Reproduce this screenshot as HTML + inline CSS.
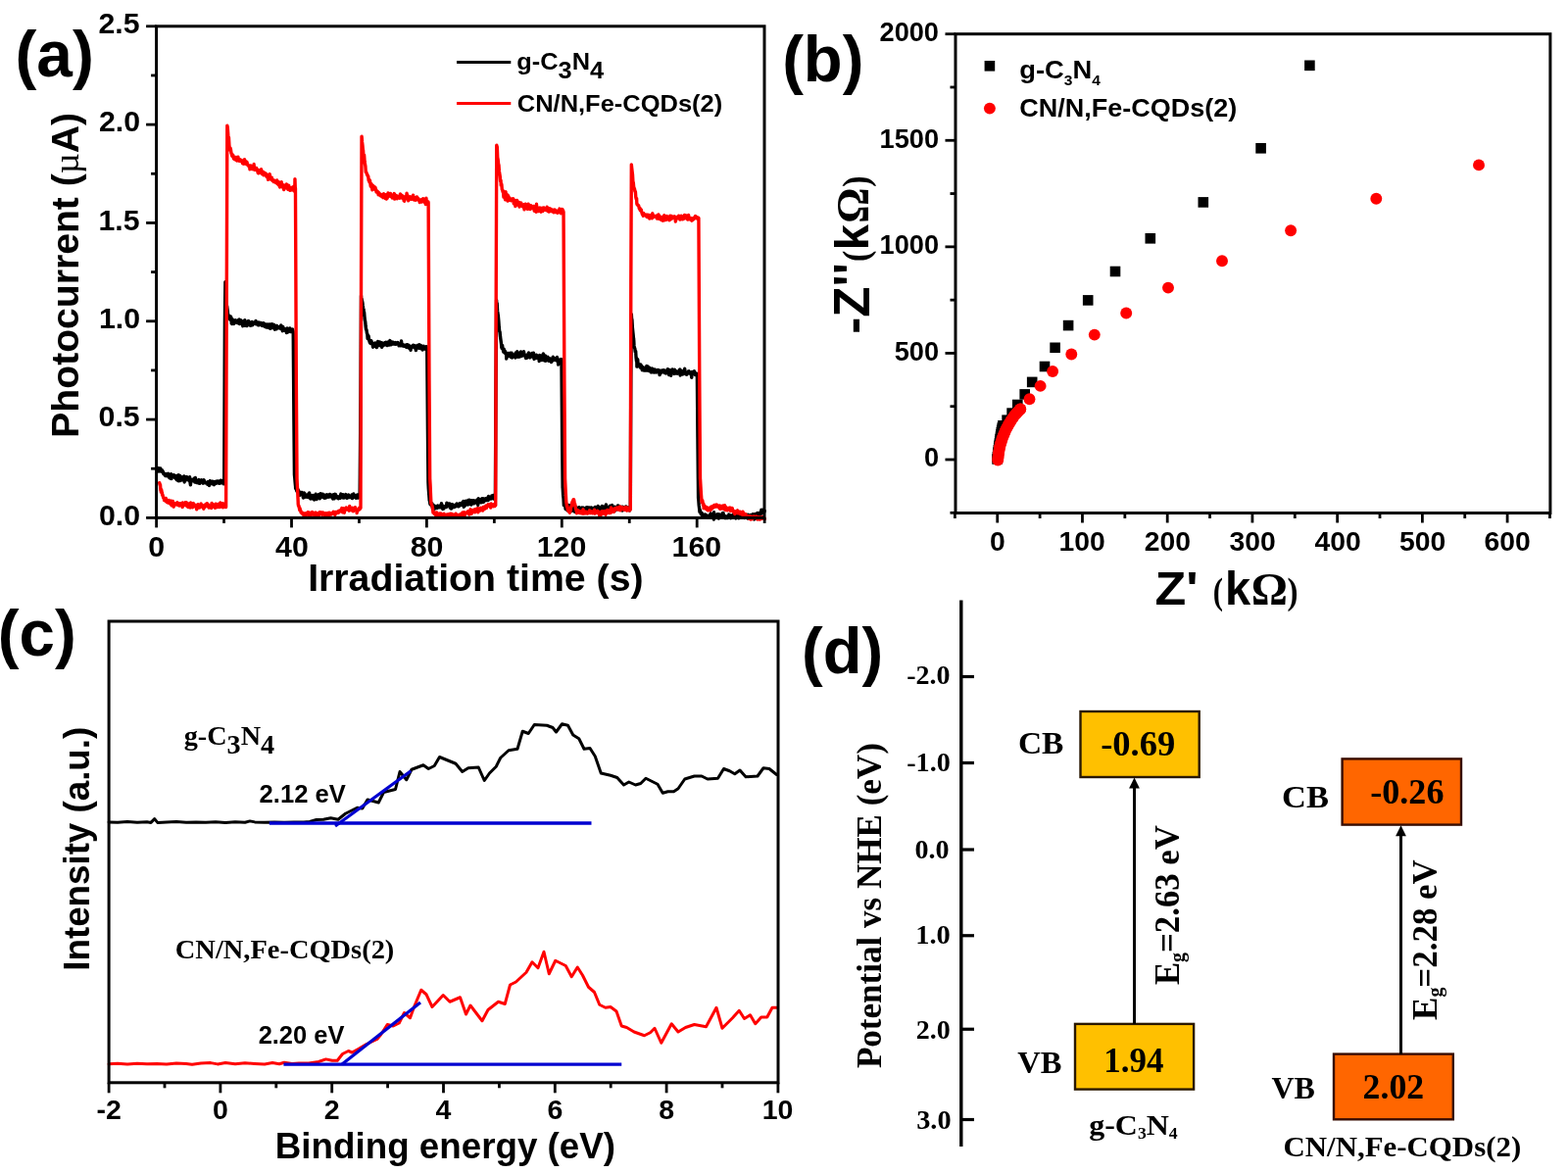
<!DOCTYPE html>
<html><head><meta charset="utf-8"><title>Figure</title>
<style>
html,body{margin:0;padding:0;background:#fff;}
body{width:1600px;height:1197px;overflow:hidden;}
svg{display:block;}
</style></head>
<body>
<svg width="1600" height="1197" viewBox="0 0 1600 1197">
<rect x="0" y="0" width="1600" height="1197" fill="#fff"/>
<polyline points="161.32,479.11 161.74,477.71 162.15,480.99 162.56,478.51 162.98,480.49 163.39,480.72 163.81,477.90 164.22,480.57 164.63,481.08 165.05,480.21 165.46,479.88 165.87,481.72 166.29,481.08 166.70,483.49 167.12,482.86 167.53,483.18 167.94,484.66 168.36,485.13 168.77,485.52 169.18,483.79 169.60,483.92 169.94,484.31 170.01,483.78 170.43,485.88 170.84,484.25 171.25,483.93 171.67,483.34 172.08,485.71 172.49,485.21 172.91,487.61 173.32,485.61 173.73,488.12 174.15,487.16 174.56,483.74 174.98,488.51 175.39,484.43 175.80,485.22 176.22,486.24 176.63,485.29 177.04,485.32 177.46,484.72 177.87,486.64 178.29,487.28 178.70,487.43 179.11,488.09 179.53,486.90 179.94,488.06 180.28,485.57 180.35,489.71 180.77,488.70 181.18,488.58 181.60,490.26 182.01,484.73 182.42,490.87 182.84,487.96 183.25,488.38 183.66,485.40 184.08,490.59 184.49,486.38 184.90,488.99 185.32,488.26 185.73,489.07 186.15,487.31 186.56,489.88 186.97,488.48 187.39,487.95 187.80,485.94 188.21,491.98 188.63,486.54 189.04,487.44 189.46,489.53 189.87,488.50 190.28,489.66 190.70,486.78 191.11,488.87 191.52,489.55 191.94,489.65 192.35,489.69 192.76,489.74 193.18,490.80 193.59,486.76 194.01,492.41 194.42,494.87 194.83,490.06 195.25,490.18 195.66,489.53 196.07,490.42 196.49,490.42 196.90,489.83 197.32,489.01 197.73,491.08 198.14,491.06 198.56,487.89 198.90,489.94 198.97,492.07 199.38,487.47 199.80,489.68 200.21,491.65 200.63,492.51 201.04,490.49 201.45,492.12 201.87,492.48 202.28,492.86 202.69,491.79 203.11,489.57 203.52,491.78 203.93,493.25 204.35,490.32 204.76,491.21 205.18,490.16 205.59,489.70 206.00,491.67 206.42,491.68 206.83,491.58 207.24,493.16 207.66,490.67 208.07,489.72 208.49,491.45 208.90,492.07 209.31,492.15 209.73,492.92 210.14,493.00 210.55,492.48 210.97,493.14 211.38,492.61 211.80,494.26 212.21,491.60 212.62,492.06 213.04,493.79 213.45,495.45 213.86,492.27 214.28,490.76 214.69,493.38 215.10,493.07 215.52,493.24 215.93,491.56 216.35,493.81 216.76,491.18 217.17,493.04 217.59,491.36 217.86,492.64 218.00,493.00 218.41,494.70 218.83,493.55 219.24,492.90 219.66,491.57 220.07,492.10 220.48,493.38 220.90,491.78 221.31,490.93 221.72,492.48 222.14,492.84 222.55,492.73 222.97,491.00 223.38,491.34 223.79,493.35 224.21,491.48 224.62,492.63 225.03,492.97 225.45,490.13 225.86,490.67 226.27,492.80 226.69,491.62 227.10,490.99 227.17,492.58 227.52,491.76 227.93,490.55 228.34,493.89 228.72,490.82 228.76,483.11 229.17,384.99 229.41,327.76 229.58,314.38 229.93,287.63 230.00,287.86 230.41,296.24 230.83,307.04 230.96,307.22 231.24,311.24 231.65,312.46 232.07,315.77 232.48,319.73 232.69,322.89 232.89,323.01 233.31,321.58 233.72,324.97 234.13,323.63 234.55,324.36 234.96,326.30 235.38,323.03 235.44,326.65 235.79,323.61 236.20,329.98 236.62,330.42 237.03,325.67 237.44,326.29 237.86,327.82 238.27,327.54 238.69,330.42 239.10,328.61 239.51,329.32 239.93,328.20 240.34,326.63 240.75,327.99 241.17,327.61 241.58,329.32 242.00,329.03 242.41,328.31 242.82,329.00 243.24,326.78 243.65,330.10 244.06,326.04 244.48,330.46 244.89,327.49 245.30,330.35 245.72,326.81 246.13,329.19 246.55,328.90 246.82,328.45 246.96,330.53 247.37,331.17 247.79,332.67 248.20,327.81 248.61,330.72 249.03,330.59 249.44,329.77 249.86,326.76 250.27,332.37 250.68,329.42 251.10,330.42 251.51,329.05 251.92,332.58 252.34,330.50 252.75,328.66 253.17,327.60 253.58,327.57 253.99,331.28 254.41,329.94 254.82,330.21 255.23,332.14 255.65,332.26 256.06,328.98 256.47,329.78 256.89,330.39 257.30,328.37 257.72,331.73 258.13,329.45 258.54,330.26 258.96,330.39 259.37,329.58 259.78,330.08 260.20,329.97 260.61,330.00 261.03,327.50 261.44,330.91 261.85,328.95 262.27,329.58 262.68,331.05 263.09,329.35 263.51,331.86 263.92,328.85 264.34,331.84 264.75,331.38 265.16,330.18 265.58,329.44 265.99,329.35 266.40,329.40 266.82,331.08 267.23,332.29 267.64,330.11 268.06,330.56 268.47,332.54 268.89,329.72 269.30,330.97 269.71,332.79 270.13,330.77 270.54,333.51 270.95,332.92 271.37,331.08 271.78,334.11 272.20,331.79 272.61,333.97 273.02,330.91 273.44,333.19 273.85,331.91 274.26,334.53 274.68,332.86 275.09,331.00 275.50,331.82 275.92,335.36 276.33,331.29 276.75,331.42 277.16,333.41 277.57,330.80 277.99,334.60 278.40,333.22 278.81,331.50 279.23,331.29 279.64,331.42 280.06,335.07 280.47,336.19 280.88,333.00 281.30,335.83 281.71,333.96 282.12,335.77 282.54,332.33 282.95,332.80 283.37,333.25 283.78,334.15 284.19,334.19 284.61,334.79 285.02,333.85 285.43,334.13 285.85,333.90 286.26,335.32 286.67,331.90 286.81,334.36 287.09,332.75 287.50,332.95 287.92,336.37 288.33,337.68 288.74,333.35 289.16,335.93 289.57,335.32 289.98,335.93 290.40,335.44 290.81,337.53 291.23,336.00 291.64,336.64 292.05,336.06 292.47,339.65 292.88,335.00 293.29,335.84 293.71,339.03 294.12,337.64 294.54,336.59 294.95,335.79 295.36,336.83 295.78,334.85 296.19,337.00 296.60,338.63 297.02,338.25 297.43,336.21 297.84,338.35 298.26,336.26 298.53,336.06 298.67,337.15 299.09,337.83 299.22,340.06 299.50,375.11 299.91,428.08 300.33,473.02 300.43,484.26 300.74,487.37 301.15,492.31 301.57,496.47 301.64,498.50 301.98,497.91 302.40,499.64 302.81,501.15 303.22,499.94 303.64,500.51 303.71,501.79 304.05,499.74 304.46,500.75 304.88,501.02 305.29,503.74 305.71,505.40 306.12,502.94 306.53,503.41 306.95,502.95 307.36,503.51 307.77,502.45 308.19,504.75 308.60,503.53 309.01,505.86 309.43,507.97 309.84,505.47 310.26,502.87 310.67,507.45 311.08,503.80 311.50,506.30 311.91,506.04 312.32,505.54 312.74,505.43 313.15,507.22 313.57,505.80 313.98,505.48 314.39,505.05 314.74,507.39 314.81,504.15 315.22,503.66 315.63,502.95 316.05,508.23 316.46,506.11 316.87,508.97 317.29,505.83 317.70,505.58 318.12,507.98 318.53,508.60 318.94,506.12 319.36,505.50 319.77,507.50 320.18,506.76 320.60,509.95 321.01,507.40 321.43,506.20 321.84,506.20 322.25,504.19 322.67,508.02 323.08,509.59 323.49,505.80 323.91,507.27 324.32,506.04 324.74,505.44 325.15,505.61 325.56,504.43 325.98,504.56 326.39,508.80 326.80,506.56 327.22,503.67 327.63,507.05 328.04,505.13 328.46,506.57 328.87,507.08 329.29,504.28 329.70,505.04 330.11,506.85 330.53,505.24 330.94,508.36 331.35,507.54 331.77,505.26 332.18,506.48 332.60,508.03 333.01,505.91 333.42,506.08 333.84,504.75 334.25,505.21 334.66,506.95 335.08,507.25 335.49,506.77 335.91,506.90 336.32,504.53 336.73,504.35 337.15,504.68 337.56,506.06 337.97,506.94 338.39,505.34 338.80,507.10 339.21,506.28 339.63,508.96 340.04,507.22 340.46,504.61 340.87,508.08 341.28,508.73 341.70,506.87 342.11,504.31 342.52,504.62 342.94,507.16 343.35,507.33 343.77,506.82 344.18,507.98 344.59,506.63 345.01,507.10 345.42,508.76 345.83,507.51 346.25,507.06 346.66,507.91 347.08,508.28 347.49,505.44 347.90,504.05 348.32,507.12 348.73,507.32 349.14,506.02 349.21,507.05 349.56,507.81 349.97,504.74 350.38,508.14 350.80,507.69 351.21,507.57 351.63,507.87 352.04,506.94 352.45,505.78 352.87,504.54 353.28,505.62 353.69,506.48 354.11,508.27 354.52,506.58 354.94,507.80 355.35,506.59 355.76,505.06 356.18,506.13 356.59,506.70 357.00,507.44 357.42,506.39 357.83,506.19 358.24,507.63 358.66,507.02 359.07,505.05 359.49,508.60 359.90,506.87 360.31,507.87 360.73,504.04 361.14,505.35 361.55,505.46 361.97,505.60 362.38,505.74 362.80,505.71 363.21,508.33 363.62,505.72 364.04,505.23 364.45,508.05 364.86,504.87 365.28,505.07 365.69,508.13 366.11,506.64 366.52,506.39 366.93,506.68 367.14,505.38 367.35,482.43 367.76,435.43 368.00,408.02 368.17,372.57 368.52,301.68 368.59,304.00 369.00,304.85 369.41,306.61 369.83,308.30 370.24,311.75 370.66,314.62 371.07,315.65 371.48,322.12 371.62,318.53 371.90,322.28 372.31,326.51 372.72,328.09 373.14,333.02 373.55,336.16 373.97,336.39 374.38,339.89 374.79,340.43 375.07,344.74 375.21,345.63 375.62,345.94 376.03,342.72 376.45,346.08 376.86,347.85 377.28,349.23 377.69,350.21 377.83,349.07 378.10,348.37 378.52,347.57 378.93,347.86 379.34,349.46 379.76,351.15 380.17,351.73 380.58,354.21 381.00,352.54 381.41,350.66 381.62,351.95 381.83,350.87 382.24,353.43 382.65,350.02 383.07,350.91 383.48,351.26 383.89,350.70 384.31,354.64 384.72,352.09 385.14,352.58 385.55,348.48 385.96,351.45 386.38,351.91 386.79,349.85 387.20,352.69 387.62,348.94 388.03,352.11 388.45,351.12 388.86,352.38 389.27,349.77 389.69,354.23 390.10,349.89 390.51,352.14 390.93,350.81 391.34,352.59 391.75,350.49 392.17,350.53 392.58,349.90 393.00,350.29 393.41,349.80 393.82,349.22 394.24,351.27 394.65,352.44 395.06,352.56 395.48,349.59 395.89,351.16 396.31,348.98 396.72,350.47 397.13,352.04 397.55,349.13 397.96,347.55 398.37,350.72 398.79,351.83 399.20,351.67 399.61,349.03 400.03,351.23 400.44,350.93 400.86,349.27 401.27,350.26 401.68,350.07 401.96,351.05 402.10,351.22 402.51,350.10 402.92,350.20 403.34,349.62 403.75,351.35 404.17,350.16 404.58,350.05 404.99,350.73 405.41,350.08 405.82,349.50 406.23,350.81 406.65,351.07 407.06,352.73 407.48,350.86 407.89,351.58 408.30,351.99 408.72,352.85 409.13,350.83 409.54,347.93 409.96,351.21 410.37,351.82 410.78,351.38 411.20,353.01 411.61,352.06 412.03,353.28 412.44,353.34 412.85,352.11 413.27,352.20 413.68,352.79 414.09,353.90 414.51,352.40 414.92,354.52 415.34,351.80 415.75,353.57 416.16,353.13 416.58,352.03 416.99,352.46 417.40,355.33 417.82,353.84 418.23,353.00 418.65,355.28 419.06,357.34 419.47,353.92 419.89,353.96 420.30,353.33 420.71,353.94 421.13,353.95 421.54,353.87 421.61,352.18 421.95,353.53 422.37,353.45 422.78,354.87 423.20,352.60 423.61,354.58 424.02,353.21 424.44,357.50 424.85,353.97 425.26,354.50 425.68,355.06 426.09,352.44 426.51,353.78 426.92,354.62 427.33,355.21 427.75,351.61 428.16,353.32 428.57,353.47 428.99,355.61 429.40,352.52 429.82,353.65 430.23,354.91 430.64,354.67 431.06,356.97 431.47,353.56 431.88,356.19 432.30,353.30 432.71,355.24 433.12,355.52 433.54,354.05 433.95,354.30 434.37,356.32 434.78,354.75 435.06,353.73 435.19,355.26 435.61,357.63 435.74,356.21 436.02,388.75 436.43,438.11 436.85,481.45 436.95,492.28 437.26,498.27 437.68,503.93 438.09,509.24 438.16,510.42 438.50,511.50 438.92,514.55 439.33,512.78 439.74,514.58 440.16,515.90 440.57,516.14 440.98,513.88 441.40,518.60 441.81,519.26 442.23,516.16 442.64,518.55 443.05,515.84 443.47,519.26 443.88,518.77 444.02,517.00 444.29,516.86 444.71,517.47 445.12,517.41 445.54,518.18 445.95,518.57 446.36,518.19 446.78,516.08 447.19,516.82 447.60,517.74 448.02,517.27 448.43,516.51 448.85,515.97 449.26,517.76 449.67,517.64 450.09,517.02 450.50,513.80 450.91,517.06 451.33,515.57 451.74,519.44 452.15,516.07 452.57,519.17 452.98,518.67 453.40,518.00 453.81,517.27 454.22,516.77 454.64,516.46 455.05,516.61 455.46,517.49 455.88,513.22 456.29,516.24 456.71,515.81 457.12,513.87 457.53,515.30 457.95,515.80 458.36,516.11 458.77,513.91 459.19,517.97 459.60,517.75 460.02,516.17 460.43,519.16 460.84,517.36 461.26,514.66 461.67,516.83 462.08,515.91 462.50,515.13 462.91,517.67 463.32,515.62 463.67,516.84 463.74,517.47 464.15,516.26 464.57,515.89 464.98,516.30 465.39,516.59 465.81,514.27 466.22,513.93 466.63,514.69 467.05,515.53 467.46,516.80 467.88,516.40 468.29,516.73 468.70,514.83 469.12,513.78 469.53,513.72 469.94,514.95 470.36,515.38 470.77,514.53 471.19,514.54 471.60,513.81 472.01,512.52 472.43,515.45 472.84,511.52 473.25,517.29 473.67,516.77 474.08,516.33 474.49,515.59 474.91,514.42 475.32,511.15 475.74,514.93 476.15,512.35 476.56,514.32 476.98,513.54 477.39,515.10 477.80,510.45 478.22,513.59 478.63,514.33 479.05,510.24 479.46,513.08 479.87,512.69 480.29,513.40 480.56,514.31 480.70,515.11 481.11,513.29 481.53,510.71 481.94,512.29 482.35,513.04 482.77,511.24 483.18,513.93 483.60,510.63 484.01,512.49 484.42,513.54 484.84,511.36 485.25,511.50 485.66,512.62 486.08,511.76 486.49,510.61 486.91,509.94 487.32,512.99 487.73,515.39 488.15,508.80 488.56,511.93 488.97,512.06 489.39,510.80 489.80,511.91 490.22,509.78 490.63,512.88 491.04,511.35 491.46,512.73 491.87,508.78 492.28,511.17 492.70,509.21 493.11,508.73 493.52,512.24 493.94,510.80 494.35,509.41 494.70,510.27 494.77,510.50 495.18,508.98 495.59,508.72 496.01,510.66 496.42,509.86 496.83,508.61 497.25,509.06 497.66,508.99 498.08,510.59 498.49,506.43 498.90,509.03 499.32,508.18 499.73,508.44 500.14,508.14 500.56,507.86 500.97,509.07 501.39,507.22 501.80,505.91 501.94,506.97 502.21,506.59 502.63,507.02 503.04,507.75 503.45,505.36 503.87,508.93 504.28,507.54 504.69,506.74 505.11,507.87 505.38,509.80 505.52,484.26 505.94,412.03 506.07,387.95 506.35,344.29 506.59,306.09 506.76,309.38 507.18,309.42 507.59,317.19 508.00,319.75 508.42,322.95 508.83,327.62 509.25,334.02 509.66,337.82 510.07,338.75 510.49,343.36 510.90,346.21 511.31,349.29 511.59,351.59 511.73,354.10 512.14,355.42 512.56,352.31 512.97,355.45 513.38,357.07 513.80,359.10 514.21,356.12 514.62,359.60 515.04,360.09 515.45,358.40 515.86,359.67 516.28,360.09 516.69,363.63 516.76,366.15 517.11,363.34 517.52,362.32 517.93,362.86 518.35,360.54 518.76,361.33 519.17,363.43 519.59,361.02 520.00,362.09 520.42,362.59 520.83,360.19 521.24,364.37 521.66,360.32 522.07,360.24 522.48,364.95 522.90,362.15 523.31,362.11 523.72,363.57 524.14,362.73 524.55,363.08 524.97,361.77 525.38,362.71 525.79,365.08 526.21,360.08 526.62,360.53 527.03,363.12 527.45,360.56 527.86,358.84 528.28,364.20 528.48,362.48 528.69,362.68 529.10,361.13 529.52,362.49 529.93,364.20 530.34,360.27 530.76,362.71 531.17,361.20 531.59,358.92 532.00,363.54 532.41,363.11 532.83,361.18 533.24,362.78 533.65,361.90 534.07,362.76 534.48,358.60 534.89,361.92 535.31,362.43 535.72,362.82 536.14,362.49 536.55,365.59 536.96,363.61 537.38,362.15 537.79,365.14 538.20,363.34 538.62,363.61 539.03,364.30 539.45,359.84 539.86,362.59 540.27,363.23 540.69,364.97 541.10,363.73 541.51,364.37 541.93,364.12 542.34,363.72 542.76,360.35 543.17,362.17 543.58,361.68 544.00,362.25 544.41,360.13 544.82,365.44 545.03,366.41 545.24,364.19 545.65,364.16 546.06,364.55 546.48,365.60 546.89,363.68 547.31,362.17 547.72,364.48 548.13,365.21 548.55,363.12 548.96,365.43 549.37,365.56 549.79,364.60 550.20,368.57 550.62,362.35 551.03,365.40 551.44,364.51 551.86,364.87 552.27,364.78 552.68,367.46 553.10,362.83 553.51,364.69 553.93,365.15 554.34,360.92 554.75,367.62 555.17,364.65 555.58,365.97 555.99,368.13 556.41,363.00 556.82,368.32 557.23,365.81 557.65,366.21 558.06,365.85 558.48,367.60 558.89,364.18 559.30,365.91 559.72,368.26 560.13,368.23 560.54,366.04 560.96,368.25 561.37,365.90 561.79,366.11 562.20,367.54 562.61,369.62 563.03,368.73 563.44,366.28 563.85,367.65 564.27,364.13 564.68,367.64 565.09,366.45 565.51,366.06 565.92,367.00 566.34,366.72 566.75,365.72 567.16,367.51 567.58,366.84 567.99,367.94 568.40,364.43 568.82,367.25 569.23,366.29 569.65,372.09 570.06,368.39 570.20,369.38 570.47,367.68 570.89,368.50 571.30,369.50 571.71,368.43 572.13,366.87 572.54,366.58 572.96,369.08 573.37,416.20 573.64,448.14 573.78,461.52 574.16,498.30 574.20,497.27 574.61,505.13 575.02,508.89 575.37,515.55 575.44,512.99 575.85,511.89 576.26,516.25 576.68,514.81 577.09,519.25 577.51,518.79 577.78,514.62 577.92,518.49 578.33,517.79 578.75,520.88 579.16,518.71 579.57,519.90 579.99,517.20 580.40,519.74 580.82,515.51 581.23,520.74 581.64,518.84 581.92,522.18 582.06,519.93 582.47,517.66 582.88,519.52 583.30,521.19 583.71,518.67 584.13,518.03 584.54,518.75 584.95,517.97 585.37,521.36 585.78,516.80 586.19,518.37 586.61,522.33 587.02,516.73 587.43,520.02 587.85,518.65 588.26,522.15 588.68,520.25 589.09,521.93 589.50,518.19 589.92,519.69 590.33,520.66 590.74,519.89 591.16,517.79 591.57,520.46 591.99,518.57 592.40,521.03 592.61,521.71 592.81,520.04 593.23,519.74 593.64,519.07 594.05,517.98 594.47,519.87 594.88,519.78 595.30,518.18 595.71,518.63 596.12,519.29 596.54,518.87 596.95,522.26 597.36,519.93 597.78,521.39 598.19,519.62 598.60,517.85 599.02,521.45 599.43,517.78 599.85,519.85 600.26,519.33 600.67,519.67 601.09,518.01 601.50,519.93 601.91,521.89 602.33,518.50 602.74,519.14 603.16,518.03 603.57,518.05 603.98,520.58 604.40,518.57 604.81,518.67 605.22,518.93 605.64,518.67 606.05,518.35 606.46,519.55 606.88,518.97 607.29,517.36 607.71,520.21 608.12,518.81 608.53,520.11 608.95,520.16 609.36,519.23 609.77,518.38 610.19,516.48 610.60,518.88 611.02,517.27 611.43,517.80 611.84,518.44 612.26,522.87 612.67,518.33 613.08,518.41 613.50,519.93 613.91,518.27 614.33,516.36 614.74,520.04 615.15,519.12 615.57,517.11 615.98,520.89 616.39,519.80 616.81,517.91 617.22,516.97 617.63,516.58 618.05,517.21 618.46,515.02 618.88,517.69 619.29,520.04 619.70,518.48 620.12,517.31 620.53,517.65 620.94,520.91 621.36,517.67 621.77,519.35 622.19,518.54 622.60,516.23 623.01,518.54 623.43,519.26 623.84,518.52 624.25,519.28 624.67,515.53 625.08,517.26 625.50,517.16 625.91,519.43 626.32,519.39 626.74,518.16 627.15,521.60 627.56,517.13 627.98,520.38 628.39,518.47 628.80,518.16 629.22,519.76 629.63,518.18 630.05,517.72 630.46,516.06 630.87,518.20 631.29,516.22 631.70,518.14 632.11,519.09 632.53,517.63 632.94,519.60 633.36,518.68 633.77,518.04 634.18,517.33 634.60,518.57 635.01,521.03 635.42,517.18 635.84,518.79 636.25,519.47 636.67,520.21 637.08,518.29 637.49,518.65 637.91,518.19 638.32,519.35 638.73,517.04 639.15,519.58 639.56,518.66 639.97,518.98 640.39,517.79 640.80,520.28 641.22,519.75 641.63,519.66 641.91,520.30 642.04,520.29 642.46,521.06 642.87,518.32 643.28,517.28 643.70,414.24 643.80,387.95 644.11,347.62 644.32,320.74 644.53,324.53 644.94,326.55 645.35,334.08 645.77,338.21 646.18,342.11 646.59,346.10 646.73,347.14 647.01,352.71 647.42,354.75 647.83,355.62 648.25,359.08 648.66,358.48 649.08,365.07 649.49,368.60 649.83,368.28 649.90,374.17 650.32,373.31 650.73,366.79 651.14,372.16 651.56,371.47 651.97,372.21 652.39,373.62 652.80,372.85 653.21,374.97 653.63,371.90 654.04,372.54 654.45,373.03 654.87,375.79 655.28,377.67 655.70,375.84 656.11,376.90 656.52,374.81 656.94,377.95 657.35,377.05 657.76,375.60 658.18,375.29 658.59,375.93 659.00,378.11 659.42,377.37 659.83,373.47 660.25,375.21 660.66,378.00 661.07,374.03 661.49,377.23 661.90,377.18 662.31,378.55 662.73,375.17 663.14,377.42 663.56,377.84 663.97,379.24 664.38,379.91 664.80,377.86 665.21,378.25 665.62,376.06 666.04,379.90 666.45,379.23 666.87,377.32 667.28,377.72 667.69,380.10 668.11,377.02 668.45,378.62 668.52,377.99 668.93,378.81 669.35,377.87 669.76,379.96 670.17,379.65 670.59,377.70 671.00,378.74 671.42,378.79 671.83,377.62 672.24,378.98 672.66,378.72 673.07,382.64 673.48,380.12 673.90,378.10 674.31,380.66 674.73,379.77 675.14,378.99 675.55,379.54 675.97,378.04 676.38,378.62 676.79,379.59 677.21,377.70 677.62,379.87 678.04,380.40 678.45,378.85 678.86,378.39 679.28,379.55 679.69,380.95 680.10,380.10 680.52,378.99 680.93,378.31 681.34,376.67 681.76,379.57 682.17,379.66 682.59,382.56 683.00,377.41 683.41,377.96 683.83,379.32 684.24,380.40 684.65,383.25 685.07,378.24 685.48,380.51 685.90,377.06 686.31,378.19 686.72,377.40 687.14,379.54 687.55,377.54 687.96,381.44 688.38,377.14 688.79,379.38 689.20,381.11 689.62,379.94 690.03,380.79 690.45,378.94 690.86,380.42 691.27,381.25 691.69,379.87 692.10,379.68 692.51,379.02 692.93,378.29 693.34,377.44 693.62,378.71 693.76,376.88 694.17,383.11 694.58,379.54 695.00,378.07 695.41,381.50 695.82,379.88 696.24,379.29 696.65,381.99 697.07,380.57 697.48,378.85 697.89,380.27 698.31,377.54 698.72,376.33 699.13,380.04 699.55,381.70 699.96,380.07 700.37,380.91 700.79,382.25 701.20,380.76 701.62,380.90 702.03,380.78 702.44,378.90 702.86,378.73 703.27,379.76 703.68,380.96 704.10,379.83 704.51,380.48 704.93,380.22 705.34,382.06 705.75,385.27 706.17,379.36 706.58,381.63 706.99,381.53 707.41,380.85 707.82,380.95 708.24,381.37 708.44,378.64 708.65,380.82 709.06,380.80 709.48,382.62 709.89,381.58 710.30,380.88 710.72,381.83 711.13,381.37 711.37,383.35 711.54,400.99 711.96,446.74 712.06,458.18 712.37,488.27 712.58,508.34 712.79,509.77 713.20,515.64 713.61,518.74 713.96,522.46 714.03,521.25 714.44,520.66 714.85,522.47 715.27,524.78 715.68,524.06 716.10,523.49 716.37,524.38 716.51,524.71 716.92,527.04 717.34,526.28 717.75,526.50 718.16,526.27 718.58,525.33 718.99,525.64 719.41,526.24 719.82,525.00 720.23,526.84 720.65,526.35 721.06,525.79 721.47,527.88 721.89,527.23 722.30,528.03 722.71,527.60 723.13,526.38 723.54,526.41 723.96,525.80 724.37,525.87 724.78,527.96 725.20,523.82 725.61,524.58 726.02,528.22 726.44,527.53 726.85,527.29 727.27,526.38 727.68,525.85 728.09,526.76 728.44,530.01 728.51,522.79 728.92,525.61 729.33,525.66 729.75,527.86 730.16,526.68 730.57,525.53 730.99,527.49 731.40,525.24 731.82,526.72 732.23,524.63 732.64,526.78 733.06,524.77 733.47,529.09 733.88,524.85 734.30,526.24 734.71,527.40 735.13,525.38 735.54,527.25 735.95,525.74 736.37,525.56 736.78,525.43 737.19,523.82 737.61,524.99 738.02,523.42 738.44,525.93 738.85,526.71 739.26,526.37 739.68,526.98 740.09,528.66 740.50,526.74 740.92,528.60 741.33,527.34 741.74,527.38 742.16,527.73 742.57,528.45 742.99,526.81 743.40,527.01 743.81,525.06 744.23,526.10 744.64,525.67 745.05,527.65 745.47,527.43 745.88,528.74 746.30,528.22 746.71,526.01 747.12,527.29 747.54,527.22 747.95,527.81 748.36,524.87 748.78,527.11 749.19,525.45 749.61,527.10 750.02,525.73 750.43,528.41 750.85,528.94 751.26,525.52 751.67,527.49 752.09,526.70 752.50,525.86 752.91,526.11 753.33,526.71 753.74,528.75 754.16,528.07 754.57,527.05 754.98,526.22 755.40,526.39 755.81,526.60 756.22,528.20 756.64,527.13 757.05,525.78 757.47,528.34 757.88,527.94 758.29,525.88 758.71,524.94 759.12,526.58 759.53,527.15 759.95,528.50 760.36,527.34 760.78,528.28 761.19,526.98 761.60,526.19 762.02,526.56 762.43,525.38 762.84,528.62 762.91,528.96 763.26,525.25 763.67,525.65 764.08,528.42 764.50,526.83 764.91,528.46 765.33,526.94 765.74,526.43 766.15,525.48 766.57,528.12 766.98,528.49 767.39,525.88 767.81,527.10 768.22,524.63 768.64,528.12 769.05,527.38 769.46,530.01 769.88,524.81 770.29,524.48 770.70,525.71 771.12,526.66 771.53,529.01 771.94,528.05 772.36,526.83 772.77,523.39 773.19,524.75 773.25,526.83 773.60,525.16 774.01,524.71 774.43,524.51 774.84,526.23 775.25,525.27 775.67,523.00 776.08,523.14 776.50,524.31 776.91,520.16 777.32,522.89 777.74,523.58 778.08,521.52 778.15,521.64 778.56,522.86 778.98,520.09 779.39,521.02 779.81,522.41 780.15,521.39" fill="none" stroke="#000" stroke-width="3.4" stroke-linejoin="round" stroke-linecap="round"/>
<polyline points="162.70,492.70 163.12,494.77 163.53,494.69 163.94,500.36 164.08,498.48 164.36,502.22 164.77,499.99 165.18,502.88 165.46,502.69 165.60,505.23 166.01,505.05 166.43,506.77 166.84,508.22 167.25,508.06 167.67,510.65 168.08,510.47 168.22,509.50 168.49,510.45 168.91,511.29 169.32,508.43 169.74,511.27 170.15,512.31 170.56,511.69 170.98,512.78 171.39,512.88 171.80,513.11 172.22,510.52 172.63,513.20 173.05,513.29 173.46,512.96 173.73,511.53 173.87,514.24 174.29,514.76 174.70,511.07 175.11,515.84 175.53,514.57 175.94,513.37 176.35,511.46 176.77,515.39 177.18,517.21 177.60,513.53 178.01,515.00 178.42,514.88 178.84,513.89 179.25,514.22 179.66,514.18 180.08,515.09 180.49,513.06 180.91,512.84 181.32,514.65 181.73,515.27 182.15,513.89 182.56,514.23 182.97,516.10 183.39,515.44 183.80,513.67 184.22,515.09 184.63,515.41 185.04,514.79 185.46,515.13 185.87,515.13 186.15,517.48 186.28,513.06 186.70,514.95 187.11,516.27 187.52,514.07 187.94,514.90 188.35,515.28 188.77,514.06 189.18,512.63 189.59,514.71 190.01,513.49 190.42,512.83 190.83,516.68 191.25,516.11 191.66,514.57 192.08,517.59 192.49,515.88 192.90,514.03 193.32,514.36 193.73,514.94 194.14,517.95 194.56,512.86 194.97,515.05 195.39,514.82 195.80,515.17 196.21,517.86 196.63,517.55 197.04,517.31 197.45,513.57 197.87,516.90 198.28,516.22 198.69,516.26 199.11,515.29 199.52,515.40 199.94,515.71 200.35,517.58 200.76,519.86 201.18,515.91 201.59,515.82 202.00,514.68 202.42,516.31 202.83,516.95 203.25,515.75 203.66,518.14 204.07,517.55 204.49,517.53 204.90,516.00 205.11,513.84 205.31,515.44 205.73,514.97 206.14,516.04 206.55,515.98 206.97,516.84 207.38,516.63 207.80,519.20 208.21,517.71 208.62,517.80 209.04,515.23 209.45,515.43 209.86,514.84 210.28,514.32 210.69,516.55 211.11,514.90 211.52,513.80 211.93,516.16 212.35,514.82 212.76,516.32 213.17,518.05 213.59,515.95 214.00,517.07 214.42,515.94 214.83,516.61 215.24,515.65 215.66,518.60 216.07,513.50 216.48,514.36 216.90,516.41 217.31,517.07 217.72,515.96 218.14,515.13 218.55,515.42 218.97,515.44 219.38,518.28 219.79,517.26 220.21,514.26 220.62,515.58 221.03,517.69 221.45,516.89 221.86,517.57 222.28,517.05 222.69,514.38 223.10,516.06 223.52,514.41 223.93,515.54 224.07,517.59 224.34,516.53 224.76,512.92 225.17,516.63 225.59,516.95 226.00,514.13 226.41,515.51 226.83,515.60 227.24,513.77 227.65,517.70 228.07,515.00 228.48,516.78 228.89,517.18 229.31,516.44 229.72,514.00 230.14,515.56 230.55,517.62 230.62,516.72 230.96,401.50 231.31,287.63 231.38,266.36 231.79,138.76 231.83,128.12 232.20,129.72 232.62,135.02 233.03,142.95 233.45,140.08 233.86,147.54 234.27,151.79 234.69,152.95 234.76,151.67 235.10,151.18 235.51,152.88 235.93,156.01 236.34,156.98 236.76,159.19 237.17,157.67 237.58,159.27 238.00,158.63 238.41,161.86 238.55,160.87 238.82,161.63 239.24,162.39 239.65,162.59 240.06,162.55 240.48,163.05 240.89,160.41 241.31,161.41 241.72,163.98 242.13,161.20 242.55,161.81 242.96,160.11 243.37,163.06 243.79,163.32 244.20,164.34 244.62,163.24 245.03,162.87 245.44,163.62 245.86,164.56 246.27,163.45 246.68,164.46 247.10,164.43 247.51,166.61 247.92,164.97 248.34,167.18 248.75,167.16 249.17,165.74 249.58,162.78 249.99,164.83 250.41,166.70 250.82,167.23 251.23,165.55 251.65,165.13 252.06,165.63 252.48,168.17 252.89,167.79 253.30,168.88 253.72,169.04 254.13,170.20 254.54,169.44 254.96,172.80 255.37,171.47 255.79,169.04 256.20,171.49 256.61,169.31 257.03,172.56 257.44,171.27 257.85,170.25 258.27,172.83 258.68,172.54 259.09,167.54 259.51,172.95 259.92,173.22 260.34,173.25 260.75,172.51 261.16,172.85 261.58,171.44 261.99,172.01 262.40,174.22 262.82,174.39 263.23,176.38 263.65,176.76 264.06,175.77 264.47,173.60 264.89,174.85 265.30,173.98 265.71,174.00 266.13,176.07 266.54,172.60 266.96,177.16 267.37,177.57 267.78,177.50 268.20,175.18 268.61,177.52 269.02,178.76 269.44,177.08 269.85,176.18 270.26,178.47 270.68,178.95 271.09,177.01 271.51,177.42 271.92,177.74 272.33,180.79 272.75,179.32 273.16,179.44 273.57,183.23 273.99,178.56 274.40,180.62 274.82,181.59 275.23,177.57 275.64,181.29 276.06,182.96 276.47,182.13 276.88,181.35 277.30,181.19 277.71,182.87 278.13,184.44 278.54,184.41 278.95,184.86 279.37,185.49 279.78,184.05 280.19,185.07 280.61,184.43 281.02,186.12 281.43,186.44 281.85,185.57 282.26,186.08 282.68,183.87 283.09,187.49 283.50,185.92 283.92,186.58 284.33,188.90 284.74,185.82 285.16,186.98 285.57,190.94 285.99,186.77 286.40,186.47 286.81,189.56 287.23,185.73 287.64,188.50 288.05,190.89 288.47,188.33 288.88,190.09 289.29,191.94 289.71,193.51 289.92,189.72 290.12,191.40 290.54,189.29 290.95,189.87 291.36,191.50 291.78,191.67 292.19,188.06 292.60,188.31 293.02,190.03 293.43,191.99 293.85,193.17 294.26,192.35 294.67,189.14 295.09,191.26 295.50,192.64 295.91,194.33 296.33,192.20 296.74,194.06 297.16,192.75 297.57,191.71 297.98,191.33 298.40,193.00 298.81,193.94 299.22,193.16 299.64,190.38 300.05,192.50 300.43,195.22 300.46,190.08 300.88,188.52 300.95,182.63 301.29,191.76 301.46,192.48 301.71,247.10 302.12,341.00 302.33,387.95 302.53,418.05 302.95,478.24 303.02,488.27 303.36,495.51 303.77,502.94 304.19,512.37 304.22,514.16 304.60,516.51 305.02,516.28 305.43,518.72 305.84,520.77 306.12,518.78 306.26,520.55 306.67,520.64 307.08,523.04 307.50,522.51 307.91,523.59 308.33,524.04 308.74,523.32 308.88,523.65 309.15,524.02 309.57,524.22 309.98,526.17 310.39,525.32 310.81,523.95 311.22,524.88 311.63,525.39 312.05,524.01 312.46,525.58 312.88,525.28 313.29,523.38 313.70,524.91 314.12,522.73 314.53,523.85 314.94,523.50 315.36,523.12 315.77,527.15 316.19,524.61 316.60,526.10 317.01,525.10 317.43,524.66 317.84,523.02 318.25,524.60 318.67,522.55 319.08,525.21 319.50,524.64 319.91,524.47 320.32,523.43 320.74,524.66 321.15,525.35 321.56,525.01 321.98,526.32 322.39,523.08 322.80,523.72 323.22,524.11 323.63,524.31 324.05,525.39 324.46,525.15 324.87,523.68 325.29,525.63 325.70,525.63 326.11,522.76 326.53,522.79 326.94,524.35 327.36,524.06 327.77,524.49 328.18,522.98 328.60,525.27 329.01,524.64 329.42,524.15 329.84,523.00 330.25,525.06 330.66,524.48 331.08,525.37 331.49,525.58 331.91,525.58 331.98,524.69 332.32,523.65 332.73,525.50 333.15,525.31 333.56,525.00 333.97,524.01 334.39,523.52 334.80,525.81 335.22,523.79 335.63,525.36 336.04,523.21 336.46,525.17 336.87,525.25 337.28,524.73 337.70,523.86 338.11,524.92 338.53,523.39 338.94,523.39 339.35,523.40 339.77,523.10 340.18,522.30 340.59,524.17 341.01,523.21 341.42,523.17 341.83,525.55 342.25,522.52 342.66,523.85 343.08,523.72 343.49,523.32 343.90,522.59 344.32,522.23 344.73,521.98 345.14,523.33 345.56,521.57 345.76,521.88 345.97,522.78 346.39,522.18 346.80,521.03 347.21,521.33 347.63,520.86 348.04,521.42 348.45,520.03 348.87,518.57 349.28,520.55 349.70,522.88 350.11,518.72 350.52,521.34 350.94,522.17 351.35,523.21 351.76,519.69 352.18,518.73 352.59,518.69 353.00,520.21 353.42,517.85 353.83,519.54 354.25,520.01 354.66,519.06 355.07,518.74 355.49,518.79 355.90,518.21 356.31,521.18 356.73,516.50 356.80,519.05 357.14,517.66 357.56,519.51 357.97,518.44 358.38,518.95 358.80,520.74 359.21,518.47 359.62,518.26 360.04,520.47 360.45,521.74 360.87,520.09 361.28,520.43 361.69,519.37 362.11,519.62 362.52,517.76 362.93,519.02 363.35,520.20 363.76,519.79 364.17,523.56 364.59,521.27 365.00,521.39 365.42,520.51 365.83,519.67 366.24,519.48 366.66,518.29 367.07,519.92 367.48,518.40 367.90,518.61 368.00,518.35 368.31,379.93 368.52,287.63 368.73,228.24 369.04,139.16 369.14,139.71 369.55,144.96 369.97,148.45 370.38,153.13 370.59,153.57 370.79,156.83 371.21,159.05 371.62,158.27 372.03,164.32 372.45,167.39 372.86,169.37 373.28,175.61 373.69,175.74 374.10,176.69 374.52,178.20 374.93,178.36 375.34,179.68 375.76,180.04 376.17,184.00 376.59,183.29 377.00,185.87 377.41,184.02 377.83,186.81 378.24,190.12 378.52,188.54 378.65,190.47 379.07,187.74 379.48,190.30 379.90,193.72 380.31,191.28 380.72,189.47 381.14,191.03 381.55,193.02 381.96,191.42 382.38,191.98 382.79,191.00 383.20,192.35 383.62,193.66 384.03,195.95 384.45,194.69 384.86,195.11 385.27,196.02 385.69,195.81 386.10,198.83 386.51,196.47 386.93,197.82 387.34,197.71 387.76,198.88 388.17,199.66 388.51,199.14 388.58,198.30 389.00,200.08 389.41,199.06 389.82,200.82 390.24,198.95 390.65,199.60 391.07,201.69 391.48,197.80 391.89,201.09 392.31,199.56 392.72,201.80 393.13,202.48 393.55,198.68 393.96,201.98 394.37,203.07 394.79,200.12 395.20,202.27 395.62,200.14 396.03,196.91 396.44,200.47 396.86,199.28 397.27,198.97 397.68,199.49 398.10,200.09 398.51,197.51 398.93,200.06 399.34,199.38 399.75,199.78 400.17,202.02 400.58,199.48 400.99,199.92 401.41,198.99 401.82,198.93 402.24,197.56 402.65,203.09 403.06,200.97 403.48,200.85 403.89,201.48 404.30,199.47 404.72,200.26 405.06,199.93 405.13,202.75 405.54,201.73 405.96,200.37 406.37,201.02 406.79,201.33 407.20,200.60 407.61,200.90 408.03,202.20 408.44,197.92 408.85,201.69 409.27,199.63 409.68,199.77 410.10,199.23 410.51,201.72 410.92,202.45 411.34,200.22 411.75,200.55 412.16,204.76 412.58,205.22 412.99,201.98 413.40,201.78 413.82,201.64 414.23,200.61 414.65,202.85 415.06,197.17 415.47,199.98 415.89,199.40 416.30,201.08 416.71,204.86 417.13,201.24 417.54,202.54 417.96,201.02 418.37,201.95 418.78,200.76 419.20,203.26 419.61,202.49 420.02,201.96 420.44,203.21 420.85,202.79 421.27,201.14 421.61,199.10 421.68,202.51 422.09,200.95 422.51,204.15 422.92,203.16 423.33,202.00 423.75,201.69 424.16,204.32 424.57,201.83 424.99,202.64 425.40,200.87 425.82,201.55 426.23,202.26 426.64,203.84 427.06,202.88 427.47,204.74 427.88,204.78 428.30,206.48 428.71,205.70 429.13,205.74 429.54,203.98 429.95,203.74 430.37,206.12 430.78,204.23 431.19,203.53 431.61,202.79 432.02,204.49 432.44,204.08 432.85,205.11 433.26,203.14 433.68,207.15 434.09,204.39 434.50,208.53 434.92,202.24 435.06,203.51 435.33,208.36 435.74,205.94 436.16,207.42 436.57,208.06 436.99,206.00 437.12,206.77 437.40,263.80 437.81,351.44 437.99,387.95 438.23,423.06 438.64,483.26 438.68,488.27 439.05,494.61 439.47,504.72 439.88,513.67 440.30,514.26 440.71,515.49 441.12,516.80 441.54,518.98 441.95,523.16 442.36,522.96 442.78,522.81 443.19,524.19 443.61,522.91 444.02,524.80 444.43,525.09 444.71,525.85 444.85,525.36 445.26,527.20 445.67,522.94 446.09,526.11 446.50,526.31 446.91,527.57 447.33,525.57 447.74,527.11 448.16,525.10 448.57,524.08 448.98,524.79 449.40,526.04 449.81,524.02 450.22,525.76 450.64,525.60 451.05,525.48 451.47,526.13 451.88,525.08 452.29,527.05 452.71,527.70 453.12,524.19 453.53,526.49 453.95,526.05 454.36,525.24 454.77,526.20 455.19,527.06 455.60,525.90 456.02,526.80 456.43,525.04 456.84,526.22 457.26,526.02 457.67,524.81 458.08,527.56 458.50,527.50 458.91,524.89 459.33,524.26 459.74,525.66 460.15,526.61 460.57,524.33 460.98,525.18 461.39,524.59 461.81,527.96 462.22,525.98 462.64,527.06 463.05,527.15 463.46,525.17 463.88,525.00 464.29,526.43 464.70,526.18 465.12,524.27 465.53,525.13 465.94,526.06 466.36,525.32 466.77,525.80 467.19,527.44 467.60,526.57 468.01,525.63 468.43,525.24 468.84,527.41 469.25,526.95 469.67,526.70 469.88,527.80 470.08,524.64 470.50,525.26 470.91,524.10 471.32,528.10 471.74,526.33 472.15,523.07 472.56,526.74 472.98,527.09 473.39,524.53 473.81,522.79 474.22,523.75 474.63,525.50 475.05,523.56 475.46,523.59 475.87,523.62 476.29,523.33 476.70,522.66 477.11,522.12 477.53,521.74 477.94,521.95 478.36,523.24 478.77,525.12 479.18,522.14 479.60,524.42 480.01,519.80 480.42,523.72 480.84,524.39 481.25,524.25 481.67,521.46 482.08,521.42 482.49,520.87 482.91,521.15 483.32,522.27 483.73,520.24 484.15,521.88 484.56,522.70 484.98,519.70 485.39,520.00 485.80,521.59 486.08,520.69 486.22,519.13 486.63,519.11 487.04,521.36 487.46,518.65 487.87,522.90 488.28,519.60 488.70,519.12 489.11,519.58 489.53,519.18 489.94,521.09 490.35,519.21 490.77,518.33 491.18,519.90 491.59,518.50 492.01,518.74 492.42,521.08 492.84,519.00 493.25,517.46 493.66,519.87 494.08,517.86 494.49,517.37 494.90,519.15 495.32,517.80 495.73,516.31 496.14,516.39 496.56,518.29 496.97,515.78 497.39,516.45 497.80,516.58 498.21,514.81 498.63,515.60 499.04,515.90 499.45,515.07 499.87,515.29 500.21,514.46 500.28,516.10 500.70,518.03 501.11,514.02 501.52,514.87 501.94,515.16 502.35,515.68 502.76,515.80 503.18,515.52 503.59,516.73 504.01,514.64 504.42,515.41 504.83,516.60 505.25,515.10 505.66,515.76 505.73,515.40 506.07,363.54 506.25,287.63 506.49,222.56 506.76,148.19 506.90,148.86 507.31,150.03 507.73,160.56 508.14,162.80 508.49,166.13 508.56,167.09 508.97,168.41 509.38,174.46 509.80,177.31 510.21,179.81 510.62,184.97 511.04,184.07 511.25,189.29 511.45,187.38 511.87,188.21 512.28,193.29 512.69,194.10 513.11,196.00 513.52,194.81 513.66,197.74 513.93,201.14 514.35,196.95 514.76,197.30 515.18,202.41 515.59,203.86 516.00,195.69 516.42,199.99 516.83,203.80 517.24,199.05 517.66,198.77 518.07,205.10 518.48,199.59 518.90,200.78 519.31,202.24 519.73,203.62 520.14,202.19 520.55,204.39 520.97,203.14 521.38,204.10 521.79,204.70 522.21,203.42 522.62,203.02 523.04,203.47 523.45,204.47 523.86,202.80 524.28,207.77 524.69,205.96 525.10,206.06 525.52,204.72 525.93,210.55 526.35,207.95 526.76,208.05 527.17,207.54 527.59,204.54 528.00,208.06 528.41,208.89 528.48,208.10 528.83,207.29 529.24,209.22 529.65,206.35 530.07,211.05 530.48,207.22 530.90,208.17 531.31,207.79 531.72,207.00 532.14,209.94 532.55,208.98 532.96,209.31 533.38,210.78 533.79,211.12 534.21,211.23 534.62,208.73 535.03,213.79 535.45,212.30 535.86,210.22 536.27,208.34 536.69,210.67 537.10,208.59 537.51,210.78 537.93,211.62 538.34,213.35 538.76,210.65 539.17,208.28 539.58,210.98 540.00,212.87 540.41,210.37 540.82,213.57 541.24,213.29 541.65,209.78 542.07,210.99 542.48,210.19 542.89,211.44 543.31,212.09 543.72,211.72 544.13,212.60 544.55,210.49 544.96,214.31 545.38,215.36 545.79,213.78 546.20,211.08 546.62,213.47 547.03,216.37 547.44,208.24 547.86,214.35 548.27,213.26 548.48,212.08 548.68,212.43 549.10,213.33 549.51,215.59 549.93,212.31 550.34,214.75 550.75,213.51 551.17,212.07 551.58,213.93 551.99,216.22 552.41,214.36 552.82,212.47 553.24,212.34 553.65,215.60 554.06,213.49 554.48,213.14 554.89,211.95 555.30,213.05 555.72,213.48 556.13,214.27 556.55,213.07 556.96,212.64 557.37,214.16 557.79,214.40 558.20,211.22 558.61,214.10 559.03,215.33 559.44,213.05 559.85,216.14 560.27,215.93 560.68,212.79 561.10,214.26 561.51,213.08 561.92,213.14 562.34,215.63 562.75,213.66 563.16,215.10 563.58,214.20 563.99,214.19 564.41,214.76 564.82,216.73 565.23,214.24 565.65,214.73 566.06,213.96 566.47,216.52 566.89,214.57 567.30,215.26 567.72,215.65 568.13,215.44 568.54,215.45 568.96,217.27 569.37,216.01 569.78,215.92 570.20,214.49 570.61,215.51 571.02,213.07 571.44,214.40 571.85,214.90 571.92,215.07 572.27,217.70 572.68,214.93 573.09,213.56 573.51,217.22 573.92,213.57 574.33,214.74 574.75,215.32 575.02,216.48 575.16,243.35 575.58,325.98 575.89,387.95 575.99,403.00 576.40,463.19 576.58,488.27 576.82,493.06 577.23,502.27 577.64,509.62 577.78,512.29 578.06,513.56 578.47,517.01 578.88,516.39 579.30,520.19 579.51,519.90 579.71,520.04 580.13,521.70 580.54,519.27 580.95,522.76 581.23,522.89 581.37,523.16 581.78,520.93 582.19,521.27 582.61,517.46 583.02,517.11 583.44,515.73 583.64,513.46 583.85,512.35 584.26,512.06 584.68,510.90 585.02,510.51 585.09,509.63 585.50,509.73 585.92,511.43 586.33,515.54 586.40,514.30 586.75,514.32 587.16,517.90 587.57,519.11 587.99,520.96 588.40,520.85 588.47,523.81 588.81,521.81 589.23,521.19 589.64,521.90 590.05,520.79 590.47,521.29 590.88,522.71 591.30,523.38 591.71,523.54 592.12,521.80 592.54,522.63 592.95,522.42 593.36,523.73 593.78,521.38 593.99,521.76 594.19,521.89 594.61,524.10 595.02,519.72 595.43,521.79 595.85,524.06 596.26,521.64 596.67,522.93 597.09,523.71 597.50,523.68 597.92,522.20 598.33,522.42 598.74,522.53 599.16,523.04 599.57,523.99 599.98,522.49 600.40,523.10 600.81,523.02 601.22,522.06 601.64,520.79 602.05,523.52 602.47,521.64 602.88,523.65 603.29,521.79 603.71,522.02 604.12,522.74 604.53,522.50 604.95,523.70 605.36,523.18 605.78,521.66 606.19,521.88 606.60,520.13 607.02,523.97 607.43,523.33 607.84,522.66 608.26,522.71 608.67,523.37 609.09,523.27 609.50,522.90 609.91,521.28 610.33,522.90 610.74,523.67 611.15,522.41 611.57,525.85 611.98,523.80 612.39,523.52 612.81,522.42 613.22,525.46 613.64,523.03 614.05,524.04 614.46,521.63 614.88,521.85 615.29,523.30 615.70,522.23 616.12,524.15 616.53,522.53 616.95,522.48 617.36,521.53 617.77,523.29 618.12,525.30 618.19,521.82 618.60,523.92 619.01,523.18 619.43,522.86 619.84,520.38 620.25,522.27 620.67,520.75 621.08,521.90 621.50,523.52 621.91,521.23 622.32,521.06 622.74,522.21 623.15,523.27 623.56,518.00 623.98,518.71 624.39,520.62 624.81,520.46 625.22,519.78 625.63,520.08 626.05,522.40 626.46,522.18 626.87,519.48 627.29,518.74 627.70,518.97 628.12,519.14 628.53,520.02 628.94,518.76 629.36,517.97 629.77,519.05 630.18,518.09 630.60,518.03 631.01,520.18 631.42,517.85 631.84,520.02 632.25,520.08 632.67,517.01 633.08,520.72 633.49,518.90 633.91,517.51 634.32,518.00 634.67,518.82 634.73,519.47 635.15,517.82 635.56,517.85 635.98,518.61 636.39,519.71 636.80,520.29 637.22,518.67 637.63,518.77 638.04,517.78 638.46,519.17 638.87,517.79 639.29,520.32 639.70,520.97 640.11,517.91 640.53,519.54 640.94,520.08 641.35,519.31 641.77,520.61 642.18,519.64 642.59,520.90 643.01,519.14 643.28,520.05 643.42,457.57 643.80,287.63 643.84,279.65 644.25,183.82 644.32,167.85 644.66,171.17 645.08,174.98 645.49,178.18 645.90,185.44 646.32,186.42 646.39,187.72 646.73,191.05 647.15,192.00 647.56,193.14 647.97,195.53 648.39,195.50 648.80,201.44 649.21,203.05 649.63,202.60 649.83,207.70 650.04,208.42 650.46,208.57 650.87,209.49 651.28,209.34 651.70,209.80 652.11,211.92 652.52,213.23 652.94,212.27 653.35,214.81 653.76,214.90 654.18,213.81 654.59,215.22 655.01,217.35 655.42,218.74 655.83,218.79 656.25,220.27 656.66,217.86 656.73,217.66 657.07,218.43 657.49,218.52 657.90,219.87 658.32,218.96 658.73,219.22 659.14,219.35 659.56,220.29 659.97,221.30 660.38,219.29 660.80,219.25 661.21,221.68 661.62,220.41 662.04,220.21 662.45,219.50 662.87,223.00 663.28,222.65 663.69,222.71 664.11,222.60 664.52,222.46 664.93,219.58 665.35,222.79 665.76,217.80 666.18,220.79 666.59,220.24 667.00,221.49 667.42,220.18 667.83,221.04 668.24,220.49 668.66,220.93 669.07,220.98 669.49,221.45 669.90,220.46 670.17,222.19 670.31,223.02 670.73,219.76 671.14,222.96 671.55,221.60 671.97,218.96 672.38,223.21 672.79,222.64 673.21,223.27 673.62,223.66 674.04,221.21 674.45,222.53 674.86,222.02 675.28,224.86 675.69,221.47 676.10,223.33 676.52,225.21 676.93,223.34 677.35,224.71 677.76,219.76 678.17,224.82 678.59,221.78 679.00,223.83 679.41,223.49 679.83,224.21 680.24,220.34 680.66,223.93 681.07,223.20 681.48,221.86 681.90,222.79 682.31,221.15 682.72,223.36 683.14,224.72 683.55,221.52 683.96,220.37 684.38,221.40 684.79,223.51 685.21,220.41 685.62,221.00 686.03,222.80 686.45,221.54 686.86,222.27 687.27,222.04 687.69,221.22 688.10,220.86 688.52,222.08 688.93,222.12 689.34,226.06 689.76,223.47 690.17,221.51 690.58,223.46 691.00,221.64 691.41,222.52 691.83,222.11 692.24,222.07 692.65,220.19 693.07,221.44 693.48,222.14 693.89,224.05 694.31,221.65 694.72,223.88 695.13,220.31 695.55,223.30 695.96,223.18 696.38,222.45 696.72,223.77 696.79,221.45 697.20,221.73 697.62,223.29 698.03,223.08 698.44,219.43 698.86,220.49 699.27,221.44 699.69,221.86 700.10,219.99 700.51,222.93 700.93,222.75 701.34,222.56 701.75,224.00 702.17,223.75 702.58,219.54 702.99,222.16 703.41,223.78 703.82,222.80 704.24,223.19 704.65,223.12 705.06,222.55 705.48,224.75 705.89,225.26 706.30,222.81 706.72,222.87 707.13,224.34 707.55,222.70 707.96,223.42 708.37,222.25 708.79,222.89 709.20,220.87 709.61,220.44 710.03,221.58 710.17,222.57 710.44,221.38 710.86,221.68 711.27,222.21 711.68,221.86 712.10,223.75 712.51,222.09 712.92,222.59 713.34,302.40 713.75,381.37 713.79,387.95 714.16,443.13 714.48,488.27 714.58,489.44 714.99,496.72 715.41,503.62 715.82,509.10 715.85,510.90 716.23,512.58 716.65,510.52 717.06,512.20 717.47,515.56 717.89,514.19 718.10,518.69 718.30,515.81 718.72,516.05 719.13,516.87 719.54,517.72 719.96,516.92 720.37,517.55 720.78,519.78 721.20,519.64 721.61,517.98 721.89,518.49 722.03,520.61 722.44,520.87 722.85,518.53 723.27,519.84 723.68,519.60 724.09,519.22 724.51,518.23 724.92,520.68 725.33,517.32 725.75,518.51 726.16,516.90 726.58,519.12 726.99,518.68 727.40,516.98 727.82,516.27 728.23,517.34 728.64,517.52 729.06,515.47 729.47,515.62 729.89,516.39 730.30,516.88 730.51,515.09 730.71,515.78 731.13,517.07 731.54,515.05 731.95,515.56 732.37,516.66 732.78,516.46 733.20,516.19 733.61,517.69 734.02,518.63 734.44,515.96 734.85,519.29 735.26,519.24 735.68,519.21 736.09,517.10 736.50,516.56 736.92,518.58 737.33,516.43 737.75,516.12 738.16,516.51 738.57,519.65 738.99,516.76 739.40,515.70 739.81,519.46 740.23,520.37 740.64,517.12 741.06,518.08 741.47,518.81 741.88,518.91 742.30,520.90 742.71,519.99 743.12,518.88 743.54,518.64 743.95,518.20 744.30,518.26 744.36,519.91 744.78,519.65 745.19,518.12 745.61,521.51 746.02,519.54 746.43,521.32 746.85,520.28 747.26,518.58 747.67,520.45 748.09,521.62 748.50,522.09 748.92,523.11 749.33,521.71 749.74,524.50 750.16,522.16 750.57,522.11 750.98,523.50 751.40,523.55 751.81,521.47 752.23,521.59 752.64,520.86 752.91,522.02 753.05,523.04 753.47,523.83 753.88,522.33 754.29,523.13 754.71,523.88 755.12,522.18 755.53,524.61 755.95,524.39 756.36,523.50 756.78,524.37 757.19,525.02 757.60,524.08 758.02,522.25 758.43,526.00 758.84,524.99 759.26,525.47 759.67,525.94 760.09,524.36 760.50,526.57 760.91,524.67 761.19,527.89 761.33,526.65 761.74,527.87 762.15,526.63 762.57,526.39 762.98,526.67 763.40,527.18 763.81,527.87 764.22,529.11 764.64,526.84 765.05,527.93 765.46,526.75 765.88,530.01 766.29,528.63 766.36,530.01 766.70,527.09 767.12,529.21 767.53,529.57 767.95,527.35 768.36,528.47 768.77,528.08 769.19,528.48 769.60,527.07 770.01,528.04 770.43,528.06 770.84,528.38 771.26,527.25 771.67,527.06 772.08,528.77 772.50,527.37 772.91,530.01 773.32,529.29 773.74,528.98 774.15,529.22 774.57,527.74 774.98,529.97 775.39,530.01 775.81,528.15 776.22,529.37 776.63,528.30 777.05,528.27 777.46,529.15 777.87,528.84 778.29,527.38 778.70,528.36 779.12,528.29 779.53,527.59 779.94,529.22 780.15,529.77" fill="none" stroke="#f00" stroke-width="3.4" stroke-linejoin="round" stroke-linecap="round"/>
<rect x="159.60" y="26.80" width="620.40" height="501.60" fill="none" stroke="#000" stroke-width="3.0"/>
<line x1="149.10" y1="528.40" x2="159.60" y2="528.40" stroke="#000" stroke-width="2.8" stroke-linecap="butt"/>
<line x1="154.10" y1="478.24" x2="159.60" y2="478.24" stroke="#000" stroke-width="2.8" stroke-linecap="butt"/>
<line x1="149.10" y1="428.08" x2="159.60" y2="428.08" stroke="#000" stroke-width="2.8" stroke-linecap="butt"/>
<line x1="154.10" y1="377.92" x2="159.60" y2="377.92" stroke="#000" stroke-width="2.8" stroke-linecap="butt"/>
<line x1="149.10" y1="327.76" x2="159.60" y2="327.76" stroke="#000" stroke-width="2.8" stroke-linecap="butt"/>
<line x1="154.10" y1="277.60" x2="159.60" y2="277.60" stroke="#000" stroke-width="2.8" stroke-linecap="butt"/>
<line x1="149.10" y1="227.44" x2="159.60" y2="227.44" stroke="#000" stroke-width="2.8" stroke-linecap="butt"/>
<line x1="154.10" y1="177.28" x2="159.60" y2="177.28" stroke="#000" stroke-width="2.8" stroke-linecap="butt"/>
<line x1="149.10" y1="127.12" x2="159.60" y2="127.12" stroke="#000" stroke-width="2.8" stroke-linecap="butt"/>
<line x1="154.10" y1="76.96" x2="159.60" y2="76.96" stroke="#000" stroke-width="2.8" stroke-linecap="butt"/>
<line x1="149.10" y1="26.80" x2="159.60" y2="26.80" stroke="#000" stroke-width="2.8" stroke-linecap="butt"/>
<line x1="159.60" y1="528.40" x2="159.60" y2="538.40" stroke="#000" stroke-width="2.8" stroke-linecap="butt"/>
<line x1="228.55" y1="528.40" x2="228.55" y2="533.90" stroke="#000" stroke-width="2.8" stroke-linecap="butt"/>
<line x1="297.50" y1="528.40" x2="297.50" y2="538.40" stroke="#000" stroke-width="2.8" stroke-linecap="butt"/>
<line x1="366.45" y1="528.40" x2="366.45" y2="533.90" stroke="#000" stroke-width="2.8" stroke-linecap="butt"/>
<line x1="435.40" y1="528.40" x2="435.40" y2="538.40" stroke="#000" stroke-width="2.8" stroke-linecap="butt"/>
<line x1="504.35" y1="528.40" x2="504.35" y2="533.90" stroke="#000" stroke-width="2.8" stroke-linecap="butt"/>
<line x1="573.30" y1="528.40" x2="573.30" y2="538.40" stroke="#000" stroke-width="2.8" stroke-linecap="butt"/>
<line x1="642.25" y1="528.40" x2="642.25" y2="533.90" stroke="#000" stroke-width="2.8" stroke-linecap="butt"/>
<line x1="711.20" y1="528.40" x2="711.20" y2="538.40" stroke="#000" stroke-width="2.8" stroke-linecap="butt"/>
<line x1="780.15" y1="528.40" x2="780.15" y2="533.90" stroke="#000" stroke-width="2.8" stroke-linecap="butt"/>
<text transform="translate(102.12,535.60) scale(1.0000,1)" x="-1.20" y="0" fill="#000" xml:space="preserve"><tspan font-family="'Liberation Sans', Arial, sans-serif" font-weight="bold" font-size="30.30">0.0</tspan></text>
<text transform="translate(101.72,435.28) scale(1.0000,1)" x="-1.20" y="0" fill="#000" xml:space="preserve"><tspan font-family="'Liberation Sans', Arial, sans-serif" font-weight="bold" font-size="30.30">0.5</tspan></text>
<text transform="translate(102.83,334.96) scale(1.0000,1)" x="-1.91" y="0" fill="#000" xml:space="preserve"><tspan font-family="'Liberation Sans', Arial, sans-serif" font-weight="bold" font-size="30.30">1.0</tspan></text>
<text transform="translate(102.43,234.64) scale(1.0000,1)" x="-1.91" y="0" fill="#000" xml:space="preserve"><tspan font-family="'Liberation Sans', Arial, sans-serif" font-weight="bold" font-size="30.30">1.5</tspan></text>
<text transform="translate(101.97,134.32) scale(1.0000,1)" x="-1.05" y="0" fill="#000" xml:space="preserve"><tspan font-family="'Liberation Sans', Arial, sans-serif" font-weight="bold" font-size="30.30">2.0</tspan></text>
<text transform="translate(101.57,34.00) scale(1.0000,1)" x="-1.05" y="0" fill="#000" xml:space="preserve"><tspan font-family="'Liberation Sans', Arial, sans-serif" font-weight="bold" font-size="30.30">2.5</tspan></text>
<text transform="translate(152.39,567.60) scale(1.0000,1)" x="-1.20" y="0" fill="#000" xml:space="preserve"><tspan font-family="'Liberation Sans', Arial, sans-serif" font-weight="bold" font-size="30.30">0</tspan></text>
<text transform="translate(281.50,567.60) scale(1.0000,1)" x="-0.46" y="0" fill="#000" xml:space="preserve"><tspan font-family="'Liberation Sans', Arial, sans-serif" font-weight="bold" font-size="30.30">40</tspan></text>
<text transform="translate(419.65,567.60) scale(1.0000,1)" x="-0.96" y="0" fill="#000" xml:space="preserve"><tspan font-family="'Liberation Sans', Arial, sans-serif" font-weight="bold" font-size="30.30">80</tspan></text>
<text transform="translate(549.60,567.60) scale(1.0000,1)" x="-1.91" y="0" fill="#000" xml:space="preserve"><tspan font-family="'Liberation Sans', Arial, sans-serif" font-weight="bold" font-size="30.30">120</tspan></text>
<text transform="translate(687.50,567.60) scale(1.0000,1)" x="-1.91" y="0" fill="#000" xml:space="preserve"><tspan font-family="'Liberation Sans', Arial, sans-serif" font-weight="bold" font-size="30.30">160</tspan></text>
<text transform="translate(18.70,77.80) scale(0.9975,1)" x="-3.29" y="0" fill="#000" xml:space="preserve"><tspan font-family="'Liberation Sans', Arial, sans-serif" font-weight="bold" font-size="66.00">(a)</tspan></text>
<text transform="translate(80.10,444.10) rotate(-90) scale(1.0162,1)" x="-2.58" y="0" fill="#000" xml:space="preserve"><tspan font-family="'Liberation Sans', Arial, sans-serif" font-weight="bold" font-size="38.50">Photocurrent (</tspan><tspan font-family="'Liberation Serif', 'Times New Roman', serif" font-weight="normal" font-size="36.00">µ</tspan><tspan font-family="'Liberation Sans', Arial, sans-serif" font-weight="bold" font-size="38.50">A)</tspan></text>
<text transform="translate(316.75,603.00) scale(1.0199,1)" x="-2.58" y="0" fill="#000" xml:space="preserve"><tspan font-family="'Liberation Sans', Arial, sans-serif" font-weight="bold" font-size="38.50">Irradiation time (s)</tspan></text>
<line x1="466.00" y1="63.40" x2="521.30" y2="63.40" stroke="#000" stroke-width="3" stroke-linecap="butt"/>
<line x1="466.00" y1="105.60" x2="521.30" y2="105.60" stroke="#f00" stroke-width="3" stroke-linecap="butt"/>
<text transform="translate(528.40,71.00) scale(1.0351,1)" x="-1.00" y="0" fill="#000" xml:space="preserve"><tspan font-family="'Liberation Sans', Arial, sans-serif" font-weight="bold" font-size="24.50">g-C</tspan><tspan font-family="'Liberation Sans', Arial, sans-serif" font-weight="bold" font-size="24.50" dy="9.00">3</tspan><tspan font-family="'Liberation Sans', Arial, sans-serif" font-weight="bold" font-size="24.50" dy="-9.00">N</tspan><tspan font-family="'Liberation Sans', Arial, sans-serif" font-weight="bold" font-size="24.50" dy="9.00">4</tspan></text>
<text transform="translate(528.80,113.50) scale(1.0400,1)" x="-1.00" y="0" fill="#000" xml:space="preserve"><tspan font-family="'Liberation Sans', Arial, sans-serif" font-weight="bold" font-size="24.50">CN/N,Fe-CQDs(2)</tspan></text>
<rect x="1331.10" y="61.50" width="10.6" height="10.6" fill="#000"/>
<rect x="1281.30" y="146.00" width="10.6" height="10.6" fill="#000"/>
<rect x="1222.50" y="201.10" width="10.6" height="10.6" fill="#000"/>
<rect x="1168.50" y="238.00" width="10.6" height="10.6" fill="#000"/>
<rect x="1132.70" y="271.70" width="10.6" height="10.6" fill="#000"/>
<rect x="1104.90" y="301.10" width="10.6" height="10.6" fill="#000"/>
<rect x="1084.80" y="326.80" width="10.6" height="10.6" fill="#000"/>
<rect x="1071.30" y="349.50" width="10.6" height="10.6" fill="#000"/>
<rect x="1060.70" y="368.70" width="10.6" height="10.6" fill="#000"/>
<rect x="1047.90" y="384.60" width="10.6" height="10.6" fill="#000"/>
<rect x="1040.40" y="397.10" width="10.6" height="10.6" fill="#000"/>
<rect x="1033.00" y="407.70" width="10.6" height="10.6" fill="#000"/>
<rect x="1027.30" y="416.30" width="10.6" height="10.6" fill="#000"/>
<rect x="1022.30" y="423.40" width="10.6" height="10.6" fill="#000"/>
<rect x="1018.10" y="429.00" width="10.6" height="10.6" fill="#000"/>
<rect x="1017.44" y="431.28" width="10.6" height="10.6" fill="#000"/>
<rect x="1016.94" y="433.56" width="10.6" height="10.6" fill="#000"/>
<rect x="1016.50" y="435.84" width="10.6" height="10.6" fill="#000"/>
<rect x="1016.09" y="438.12" width="10.6" height="10.6" fill="#000"/>
<rect x="1015.69" y="440.40" width="10.6" height="10.6" fill="#000"/>
<rect x="1015.31" y="442.68" width="10.6" height="10.6" fill="#000"/>
<rect x="1014.95" y="444.96" width="10.6" height="10.6" fill="#000"/>
<rect x="1014.59" y="447.24" width="10.6" height="10.6" fill="#000"/>
<rect x="1014.25" y="449.52" width="10.6" height="10.6" fill="#000"/>
<rect x="1013.91" y="451.80" width="10.6" height="10.6" fill="#000"/>
<rect x="1013.57" y="454.08" width="10.6" height="10.6" fill="#000"/>
<rect x="1013.25" y="456.36" width="10.6" height="10.6" fill="#000"/>
<rect x="1012.93" y="458.64" width="10.6" height="10.6" fill="#000"/>
<rect x="1012.61" y="460.92" width="10.6" height="10.6" fill="#000"/>
<rect x="1012.30" y="463.20" width="10.6" height="10.6" fill="#000"/>
<circle cx="1509.00" cy="168.40" r="5.95" fill="#f00"/>
<circle cx="1404.30" cy="202.70" r="5.95" fill="#f00"/>
<circle cx="1317.10" cy="235.30" r="5.95" fill="#f00"/>
<circle cx="1247.00" cy="266.30" r="5.95" fill="#f00"/>
<circle cx="1192.00" cy="293.60" r="5.95" fill="#f00"/>
<circle cx="1149.20" cy="319.50" r="5.95" fill="#f00"/>
<circle cx="1116.80" cy="341.60" r="5.95" fill="#f00"/>
<circle cx="1093.30" cy="361.50" r="5.95" fill="#f00"/>
<circle cx="1074.10" cy="379.00" r="5.95" fill="#f00"/>
<circle cx="1061.60" cy="393.90" r="5.95" fill="#f00"/>
<circle cx="1050.50" cy="407.30" r="5.95" fill="#f00"/>
<circle cx="1041.20" cy="417.50" r="5.95" fill="#f00"/>
<circle cx="1041.20" cy="417.50" r="5.95" fill="#f00"/>
<circle cx="1039.87" cy="418.91" r="5.95" fill="#f00"/>
<circle cx="1038.55" cy="420.33" r="5.95" fill="#f00"/>
<circle cx="1037.22" cy="421.74" r="5.95" fill="#f00"/>
<circle cx="1035.90" cy="423.15" r="5.95" fill="#f00"/>
<circle cx="1034.68" cy="424.65" r="5.95" fill="#f00"/>
<circle cx="1033.61" cy="426.26" r="5.95" fill="#f00"/>
<circle cx="1032.55" cy="427.88" r="5.95" fill="#f00"/>
<circle cx="1031.48" cy="429.50" r="5.95" fill="#f00"/>
<circle cx="1030.43" cy="431.13" r="5.95" fill="#f00"/>
<circle cx="1029.47" cy="432.81" r="5.95" fill="#f00"/>
<circle cx="1028.51" cy="434.49" r="5.95" fill="#f00"/>
<circle cx="1027.54" cy="436.17" r="5.95" fill="#f00"/>
<circle cx="1026.58" cy="437.85" r="5.95" fill="#f00"/>
<circle cx="1025.83" cy="439.64" r="5.95" fill="#f00"/>
<circle cx="1025.09" cy="441.43" r="5.95" fill="#f00"/>
<circle cx="1024.35" cy="443.22" r="5.95" fill="#f00"/>
<circle cx="1023.61" cy="445.01" r="5.95" fill="#f00"/>
<circle cx="1022.93" cy="446.82" r="5.95" fill="#f00"/>
<circle cx="1022.33" cy="448.67" r="5.95" fill="#f00"/>
<circle cx="1021.73" cy="450.51" r="5.95" fill="#f00"/>
<circle cx="1021.14" cy="452.35" r="5.95" fill="#f00"/>
<circle cx="1020.56" cy="454.20" r="5.95" fill="#f00"/>
<circle cx="1020.18" cy="456.10" r="5.95" fill="#f00"/>
<circle cx="1019.80" cy="458.00" r="5.95" fill="#f00"/>
<circle cx="1019.42" cy="459.90" r="5.95" fill="#f00"/>
<circle cx="1019.04" cy="461.80" r="5.95" fill="#f00"/>
<circle cx="1018.82" cy="463.72" r="5.95" fill="#f00"/>
<circle cx="1018.61" cy="465.65" r="5.95" fill="#f00"/>
<circle cx="1018.41" cy="467.57" r="5.95" fill="#f00"/>
<circle cx="1018.20" cy="469.50" r="5.95" fill="#f00"/>
<rect x="975.00" y="34.70" width="606.90" height="488.80" fill="none" stroke="#000" stroke-width="3.0"/>
<line x1="969.50" y1="523.29" x2="975.00" y2="523.29" stroke="#000" stroke-width="2.8" stroke-linecap="butt"/>
<line x1="964.50" y1="469.00" x2="975.00" y2="469.00" stroke="#000" stroke-width="2.8" stroke-linecap="butt"/>
<line x1="969.50" y1="414.71" x2="975.00" y2="414.71" stroke="#000" stroke-width="2.8" stroke-linecap="butt"/>
<line x1="964.50" y1="360.43" x2="975.00" y2="360.43" stroke="#000" stroke-width="2.8" stroke-linecap="butt"/>
<line x1="969.50" y1="306.14" x2="975.00" y2="306.14" stroke="#000" stroke-width="2.8" stroke-linecap="butt"/>
<line x1="964.50" y1="251.85" x2="975.00" y2="251.85" stroke="#000" stroke-width="2.8" stroke-linecap="butt"/>
<line x1="969.50" y1="197.56" x2="975.00" y2="197.56" stroke="#000" stroke-width="2.8" stroke-linecap="butt"/>
<line x1="964.50" y1="143.27" x2="975.00" y2="143.27" stroke="#000" stroke-width="2.8" stroke-linecap="butt"/>
<line x1="969.50" y1="88.99" x2="975.00" y2="88.99" stroke="#000" stroke-width="2.8" stroke-linecap="butt"/>
<line x1="964.50" y1="34.70" x2="975.00" y2="34.70" stroke="#000" stroke-width="2.8" stroke-linecap="butt"/>
<line x1="974.39" y1="523.50" x2="974.39" y2="529.00" stroke="#000" stroke-width="2.8" stroke-linecap="butt"/>
<line x1="1017.75" y1="523.50" x2="1017.75" y2="533.50" stroke="#000" stroke-width="2.8" stroke-linecap="butt"/>
<line x1="1061.11" y1="523.50" x2="1061.11" y2="529.00" stroke="#000" stroke-width="2.8" stroke-linecap="butt"/>
<line x1="1104.47" y1="523.50" x2="1104.47" y2="533.50" stroke="#000" stroke-width="2.8" stroke-linecap="butt"/>
<line x1="1147.84" y1="523.50" x2="1147.84" y2="529.00" stroke="#000" stroke-width="2.8" stroke-linecap="butt"/>
<line x1="1191.20" y1="523.50" x2="1191.20" y2="533.50" stroke="#000" stroke-width="2.8" stroke-linecap="butt"/>
<line x1="1234.56" y1="523.50" x2="1234.56" y2="529.00" stroke="#000" stroke-width="2.8" stroke-linecap="butt"/>
<line x1="1277.92" y1="523.50" x2="1277.92" y2="533.50" stroke="#000" stroke-width="2.8" stroke-linecap="butt"/>
<line x1="1321.29" y1="523.50" x2="1321.29" y2="529.00" stroke="#000" stroke-width="2.8" stroke-linecap="butt"/>
<line x1="1364.65" y1="523.50" x2="1364.65" y2="533.50" stroke="#000" stroke-width="2.8" stroke-linecap="butt"/>
<line x1="1408.01" y1="523.50" x2="1408.01" y2="529.00" stroke="#000" stroke-width="2.8" stroke-linecap="butt"/>
<line x1="1451.38" y1="523.50" x2="1451.38" y2="533.50" stroke="#000" stroke-width="2.8" stroke-linecap="butt"/>
<line x1="1494.74" y1="523.50" x2="1494.74" y2="529.00" stroke="#000" stroke-width="2.8" stroke-linecap="butt"/>
<line x1="1538.10" y1="523.50" x2="1538.10" y2="533.50" stroke="#000" stroke-width="2.8" stroke-linecap="butt"/>
<line x1="1581.46" y1="523.50" x2="1581.46" y2="529.00" stroke="#000" stroke-width="2.8" stroke-linecap="butt"/>
<text transform="translate(943.96,476.40) scale(1.0000,1)" x="-1.08" y="0" fill="#000" xml:space="preserve"><tspan font-family="'Liberation Sans', Arial, sans-serif" font-weight="bold" font-size="27.20">0</tspan></text>
<text transform="translate(913.47,367.82) scale(1.0000,1)" x="-0.84" y="0" fill="#000" xml:space="preserve"><tspan font-family="'Liberation Sans', Arial, sans-serif" font-weight="bold" font-size="27.20">500</tspan></text>
<text transform="translate(899.22,259.25) scale(1.0000,1)" x="-1.71" y="0" fill="#000" xml:space="preserve"><tspan font-family="'Liberation Sans', Arial, sans-serif" font-weight="bold" font-size="27.20">1000</tspan></text>
<text transform="translate(899.22,150.67) scale(1.0000,1)" x="-1.71" y="0" fill="#000" xml:space="preserve"><tspan font-family="'Liberation Sans', Arial, sans-serif" font-weight="bold" font-size="27.20">1500</tspan></text>
<text transform="translate(898.45,42.10) scale(1.0000,1)" x="-0.94" y="0" fill="#000" xml:space="preserve"><tspan font-family="'Liberation Sans', Arial, sans-serif" font-weight="bold" font-size="27.20">2000</tspan></text>
<text transform="translate(1011.01,562.20) scale(1.0300,1)" x="-1.09" y="0" fill="#000" xml:space="preserve"><tspan font-family="'Liberation Sans', Arial, sans-serif" font-weight="bold" font-size="27.50">0</tspan></text>
<text transform="translate(1082.32,562.20) scale(1.0300,1)" x="-1.73" y="0" fill="#000" xml:space="preserve"><tspan font-family="'Liberation Sans', Arial, sans-serif" font-weight="bold" font-size="27.50">100</tspan></text>
<text transform="translate(1168.64,562.20) scale(1.0300,1)" x="-0.95" y="0" fill="#000" xml:space="preserve"><tspan font-family="'Liberation Sans', Arial, sans-serif" font-weight="bold" font-size="27.50">200</tspan></text>
<text transform="translate(1255.20,562.20) scale(1.0300,1)" x="-0.63" y="0" fill="#000" xml:space="preserve"><tspan font-family="'Liberation Sans', Arial, sans-serif" font-weight="bold" font-size="27.50">300</tspan></text>
<text transform="translate(1341.82,562.20) scale(1.0300,1)" x="-0.42" y="0" fill="#000" xml:space="preserve"><tspan font-family="'Liberation Sans', Arial, sans-serif" font-weight="bold" font-size="27.50">400</tspan></text>
<text transform="translate(1428.76,562.20) scale(1.0300,1)" x="-0.85" y="0" fill="#000" xml:space="preserve"><tspan font-family="'Liberation Sans', Arial, sans-serif" font-weight="bold" font-size="27.50">500</tspan></text>
<text transform="translate(1515.57,562.20) scale(1.0300,1)" x="-1.01" y="0" fill="#000" xml:space="preserve"><tspan font-family="'Liberation Sans', Arial, sans-serif" font-weight="bold" font-size="27.50">600</tspan></text>
<text transform="translate(801.40,83.30) scale(0.9884,1)" x="-3.29" y="0" fill="#000" xml:space="preserve"><tspan font-family="'Liberation Sans', Arial, sans-serif" font-weight="bold" font-size="66.00">(b)</tspan></text>
<text transform="translate(886.50,338.80) rotate(-90) scale(0.9953,1)" x="-2.01" y="0" fill="#000" xml:space="preserve"><tspan font-family="'Liberation Sans', Arial, sans-serif" font-weight="bold" font-size="51.50">-Z''</tspan></text>
<text transform="translate(886.30,265.50) rotate(-90) scale(0.9260,1)" x="-1.63" y="0" fill="#000" xml:space="preserve"><tspan font-family="'Liberation Serif', 'Times New Roman', serif" font-weight="bold" font-size="37.00">(</tspan></text>
<text transform="translate(886.30,252.00) rotate(-90) scale(0.9833,1)" x="-3.35" y="0" fill="#000" xml:space="preserve"><tspan font-family="'Liberation Sans', Arial, sans-serif" font-weight="bold" font-size="48.00">k</tspan></text>
<text transform="translate(886.30,225.80) rotate(-90) scale(0.9710,1)" x="-2.11" y="0" fill="#000" xml:space="preserve"><tspan font-family="'Liberation Serif', 'Times New Roman', serif" font-weight="bold" font-size="46.50">Ω</tspan></text>
<text transform="translate(886.30,189.70) rotate(-90) scale(0.9155,1)" x="-1.19" y="0" fill="#000" xml:space="preserve"><tspan font-family="'Liberation Serif', 'Times New Roman', serif" font-weight="bold" font-size="37.00">)</tspan></text>
<text transform="translate(1180.10,616.80) scale(1.0615,1)" x="-1.46" y="0" fill="#000" xml:space="preserve"><tspan font-family="'Liberation Sans', Arial, sans-serif" font-weight="bold" font-size="49.00">Z'</tspan></text>
<text transform="translate(1239.10,616.30) scale(0.8313,1)" x="-1.63" y="0" fill="#000" xml:space="preserve"><tspan font-family="'Liberation Serif', 'Times New Roman', serif" font-weight="bold" font-size="37.00">(</tspan></text>
<text transform="translate(1253.40,616.80) scale(0.9893,1)" x="-3.32" y="0" fill="#000" xml:space="preserve"><tspan font-family="'Liberation Sans', Arial, sans-serif" font-weight="bold" font-size="47.50">k</tspan></text>
<text transform="translate(1278.90,616.80) scale(0.9982,1)" x="-2.11" y="0" fill="#000" xml:space="preserve"><tspan font-family="'Liberation Serif', 'Times New Roman', serif" font-weight="bold" font-size="46.50">Ω</tspan></text>
<text transform="translate(1314.50,616.30) scale(0.8945,1)" x="-1.19" y="0" fill="#000" xml:space="preserve"><tspan font-family="'Liberation Serif', 'Times New Roman', serif" font-weight="bold" font-size="37.00">)</tspan></text>
<rect x="1004.6" y="62.0" width="10.6" height="10.6" fill="#000"/>
<circle cx="1009.9" cy="110.6" r="5.95" fill="#f00"/>
<text transform="translate(1041.40,80.00) scale(1.0724,1)" x="-1.05" y="0" fill="#000" xml:space="preserve"><tspan font-family="'Liberation Sans', Arial, sans-serif" font-weight="bold" font-size="25.50">g-C</tspan><tspan font-family="'Liberation Sans', Arial, sans-serif" font-weight="bold" font-size="14.50" dy="7.00">3</tspan><tspan font-family="'Liberation Sans', Arial, sans-serif" font-weight="bold" font-size="25.50" dy="-7.00">N</tspan><tspan font-family="'Liberation Sans', Arial, sans-serif" font-weight="bold" font-size="14.50" dy="7.00">4</tspan></text>
<text transform="translate(1041.40,119.00) scale(1.0590,1)" x="-1.05" y="0" fill="#000" xml:space="preserve"><tspan font-family="'Liberation Sans', Arial, sans-serif" font-weight="bold" font-size="25.50">CN/N,Fe-CQDs(2)</tspan></text>
<polyline points="111.10,839.00 120.00,839.30 130.00,838.60 140.00,839.20 150.00,838.70 154.00,839.40 157.70,835.60 161.00,839.60 170.00,838.90 180.00,838.60 190.00,839.20 200.00,838.90 210.00,839.30 220.00,838.70 230.00,839.50 240.00,838.80 250.00,839.30 255.00,837.90 260.00,838.90 270.00,839.20 280.00,839.00 290.00,839.30 300.00,838.90 310.00,839.00 316.00,838.40 322.80,836.50 330.00,836.20 337.50,834.75 345.00,836.20 352.50,830.25 364.50,824.25 369.75,825.00 375.00,816.00 386.25,819.00 391.50,808.50 403.50,805.50 408.00,787.50 414.75,795.75 420.00,785.25 432.00,780.75 437.25,784.50 443.25,781.50 448.50,772.50 465.00,779.25 471.75,787.50 477.75,783.75 488.25,783.00 494.25,796.50 499.50,789.00 506.25,782.25 510.75,773.25 519.00,765.75 528.00,764.25 533.25,746.25 539.25,748.50 545.25,739.50 558.00,740.25 564.00,742.50 567.50,747.00 573.50,738.75 579.50,740.25 584.75,750.00 590.75,753.75 596.00,764.25 602.00,763.50 607.25,771.75 613.25,789.00 623.00,791.25 629.75,793.50 636.50,801.00 641.75,798.00 648.50,801.00 653.75,799.50 659.00,794.25 665.00,797.25 671.00,800.25 676.25,809.25 681.50,807.75 687.50,807.75 692.00,804.75 698.75,795.00 708.50,792.00 716.00,792.00 722.00,795.00 732.50,794.25 738.50,784.50 744.50,786.75 749.75,789.75 755.00,786.00 761.00,792.75 773.00,792.00 779.00,783.75 785.00,784.50 792.50,790.50" fill="none" stroke="#000" stroke-width="3.0" stroke-linejoin="round" stroke-linecap="round"/>
<polyline points="111.10,1085.80 120.00,1085.30 130.00,1086.00 140.00,1085.20 150.00,1085.80 160.00,1085.40 170.00,1086.10 180.00,1085.00 190.00,1085.60 196.00,1086.30 205.00,1085.00 215.00,1084.60 222.00,1085.90 230.00,1084.50 240.00,1085.80 250.00,1084.80 260.00,1085.40 270.00,1085.90 278.00,1084.60 285.00,1085.80 290.00,1084.20 298.00,1085.50 305.00,1084.90 315.00,1085.00 325.00,1083.50 332.50,1080.90 339.00,1082.25 344.25,1082.25 349.50,1075.50 355.50,1072.50 359.25,1074.00 366.00,1070.25 373.50,1065.75 384.75,1060.50 388.50,1056.00 395.25,1045.50 401.25,1047.00 407.25,1044.00 412.50,1033.50 418.50,1038.75 422.25,1028.25 429.75,1010.25 435.00,1014.75 441.00,1027.50 452.25,1015.50 459.00,1022.25 469.50,1017.75 475.50,1035.00 480.00,1026.00 492.00,1041.75 498.00,1030.50 508.50,1022.25 515.25,1024.50 520.50,1005.00 526.50,1002.00 537.00,992.25 543.00,981.75 549.00,987.75 555.00,971.25 560.25,993.75 566.75,980.25 577.25,985.50 583.25,996.75 589.25,987.00 594.50,995.25 600.50,1007.25 606.50,1012.50 611.75,1025.25 617.75,1028.25 623.00,1027.50 629.00,1032.00 634.25,1047.00 639.50,1048.50 647.00,1053.00 657.50,1056.75 663.50,1053.75 668.00,1049.25 674.75,1064.25 685.25,1044.75 692.00,1053.00 699.50,1048.50 708.50,1045.50 720.50,1047.75 731.00,1028.25 737.00,1049.25 747.50,1038.75 754.25,1031.25 759.50,1039.50 765.50,1035.75 770.75,1044.75 776.75,1038.00 782.75,1038.00 788.00,1028.25 792.50,1028.25" fill="none" stroke="#f00" stroke-width="3.0" stroke-linejoin="round" stroke-linecap="round"/>
<line x1="274.80" y1="840.00" x2="603.50" y2="840.00" stroke="#0000d0" stroke-width="3.3" stroke-linecap="butt"/>
<line x1="342.00" y1="843.00" x2="419.25" y2="786.75" stroke="#0000d0" stroke-width="3.2" stroke-linecap="butt"/>
<line x1="289.40" y1="1086.20" x2="634.25" y2="1086.20" stroke="#0000d0" stroke-width="3.3" stroke-linecap="butt"/>
<line x1="349.00" y1="1086.00" x2="429.00" y2="1023.00" stroke="#0000d0" stroke-width="3.2" stroke-linecap="butt"/>
<rect x="111.10" y="634.00" width="682.90" height="470.80" fill="none" stroke="#000" stroke-width="3.0"/>
<line x1="111.10" y1="1104.80" x2="111.10" y2="1115.30" stroke="#000" stroke-width="2.8" stroke-linecap="butt"/>
<line x1="168.00" y1="1104.80" x2="168.00" y2="1110.30" stroke="#000" stroke-width="2.8" stroke-linecap="butt"/>
<line x1="224.90" y1="1104.80" x2="224.90" y2="1115.30" stroke="#000" stroke-width="2.8" stroke-linecap="butt"/>
<line x1="281.80" y1="1104.80" x2="281.80" y2="1110.30" stroke="#000" stroke-width="2.8" stroke-linecap="butt"/>
<line x1="338.70" y1="1104.80" x2="338.70" y2="1115.30" stroke="#000" stroke-width="2.8" stroke-linecap="butt"/>
<line x1="395.60" y1="1104.80" x2="395.60" y2="1110.30" stroke="#000" stroke-width="2.8" stroke-linecap="butt"/>
<line x1="452.50" y1="1104.80" x2="452.50" y2="1115.30" stroke="#000" stroke-width="2.8" stroke-linecap="butt"/>
<line x1="509.40" y1="1104.80" x2="509.40" y2="1110.30" stroke="#000" stroke-width="2.8" stroke-linecap="butt"/>
<line x1="566.30" y1="1104.80" x2="566.30" y2="1115.30" stroke="#000" stroke-width="2.8" stroke-linecap="butt"/>
<line x1="623.20" y1="1104.80" x2="623.20" y2="1110.30" stroke="#000" stroke-width="2.8" stroke-linecap="butt"/>
<line x1="680.10" y1="1104.80" x2="680.10" y2="1115.30" stroke="#000" stroke-width="2.8" stroke-linecap="butt"/>
<line x1="737.00" y1="1104.80" x2="737.00" y2="1110.30" stroke="#000" stroke-width="2.8" stroke-linecap="butt"/>
<line x1="793.90" y1="1104.80" x2="793.90" y2="1115.30" stroke="#000" stroke-width="2.8" stroke-linecap="butt"/>
<text transform="translate(99.56,1142.30) scale(1.0000,1)" x="-1.11" y="0" fill="#000" xml:space="preserve"><tspan font-family="'Liberation Sans', Arial, sans-serif" font-weight="bold" font-size="28.50">-2</tspan></text>
<text transform="translate(218.12,1142.30) scale(1.0000,1)" x="-1.13" y="0" fill="#000" xml:space="preserve"><tspan font-family="'Liberation Sans', Arial, sans-serif" font-weight="bold" font-size="28.50">0</tspan></text>
<text transform="translate(331.84,1142.30) scale(1.0000,1)" x="-0.99" y="0" fill="#000" xml:space="preserve"><tspan font-family="'Liberation Sans', Arial, sans-serif" font-weight="bold" font-size="28.50">2</tspan></text>
<text transform="translate(444.87,1142.30) scale(1.0000,1)" x="-0.43" y="0" fill="#000" xml:space="preserve"><tspan font-family="'Liberation Sans', Arial, sans-serif" font-weight="bold" font-size="28.50">4</tspan></text>
<text transform="translate(559.41,1142.30) scale(1.0000,1)" x="-1.04" y="0" fill="#000" xml:space="preserve"><tspan font-family="'Liberation Sans', Arial, sans-serif" font-weight="bold" font-size="28.50">6</tspan></text>
<text transform="translate(673.07,1142.30) scale(1.0000,1)" x="-0.90" y="0" fill="#000" xml:space="preserve"><tspan font-family="'Liberation Sans', Arial, sans-serif" font-weight="bold" font-size="28.50">8</tspan></text>
<text transform="translate(779.53,1142.30) scale(1.0000,1)" x="-1.80" y="0" fill="#000" xml:space="preserve"><tspan font-family="'Liberation Sans', Arial, sans-serif" font-weight="bold" font-size="28.50">10</tspan></text>
<text transform="translate(1.00,668.50) scale(0.9921,1)" x="-3.29" y="0" fill="#000" xml:space="preserve"><tspan font-family="'Liberation Sans', Arial, sans-serif" font-weight="bold" font-size="66.00">(c)</tspan></text>
<text transform="translate(91.30,988.30) rotate(-90) scale(1.0068,1)" x="-2.44" y="0" fill="#000" xml:space="preserve"><tspan font-family="'Liberation Sans', Arial, sans-serif" font-weight="bold" font-size="36.50">Intensity (a.u.)</tspan></text>
<text transform="translate(283.25,1181.75) scale(1.0075,1)" x="-2.44" y="0" fill="#000" xml:space="preserve"><tspan font-family="'Liberation Sans', Arial, sans-serif" font-weight="bold" font-size="36.50">Binding energy (eV)</tspan></text>
<text transform="translate(188.40,759.50) scale(1.0450,1)" x="-0.71" y="0" fill="#000" xml:space="preserve"><tspan font-family="'Liberation Serif', 'Times New Roman', serif" font-weight="bold" font-size="27.00">g-C</tspan><tspan font-family="'Liberation Serif', 'Times New Roman', serif" font-weight="bold" font-size="27.00" dy="9.00">3</tspan><tspan font-family="'Liberation Serif', 'Times New Roman', serif" font-weight="bold" font-size="27.00" dy="-9.00">N</tspan><tspan font-family="'Liberation Serif', 'Times New Roman', serif" font-weight="bold" font-size="27.00" dy="9.00">4</tspan></text>
<text transform="translate(180.20,977.80) scale(1.0541,1)" x="-1.32" y="0" fill="#000" xml:space="preserve"><tspan font-family="'Liberation Serif', 'Times New Roman', serif" font-weight="bold" font-size="27.00">CN/N,Fe-CQDs(2)</tspan></text>
<text transform="translate(265.50,819.20) scale(1.0041,1)" x="-0.88" y="0" fill="#000" xml:space="preserve"><tspan font-family="'Liberation Sans', Arial, sans-serif" font-weight="bold" font-size="25.50">2.12 eV</tspan></text>
<text transform="translate(264.50,1065.30) scale(0.9989,1)" x="-0.88" y="0" fill="#000" xml:space="preserve"><tspan font-family="'Liberation Sans', Arial, sans-serif" font-weight="bold" font-size="25.50">2.20 eV</tspan></text>
<line x1="980.80" y1="612.50" x2="980.80" y2="1170.00" stroke="#000" stroke-width="3.4" stroke-linecap="butt"/>
<line x1="980.80" y1="690.50" x2="994.00" y2="690.50" stroke="#000" stroke-width="3.2" stroke-linecap="butt"/>
<text transform="translate(926.25,697.70) scale(1.0570,1)" x="-0.97" y="0" fill="#000" xml:space="preserve"><tspan font-family="'Liberation Serif', 'Times New Roman', serif" font-weight="bold" font-size="26.50">-2.0</tspan></text>
<line x1="980.80" y1="778.50" x2="994.00" y2="778.50" stroke="#000" stroke-width="3.2" stroke-linecap="butt"/>
<text transform="translate(926.25,786.60) scale(1.0633,1)" x="-0.97" y="0" fill="#000" xml:space="preserve"><tspan font-family="'Liberation Serif', 'Times New Roman', serif" font-weight="bold" font-size="26.50">-1.0</tspan></text>
<line x1="980.80" y1="867.00" x2="994.00" y2="867.00" stroke="#000" stroke-width="3.2" stroke-linecap="butt"/>
<text transform="translate(934.50,876.40) scale(1.0609,1)" x="-1.01" y="0" fill="#000" xml:space="preserve"><tspan font-family="'Liberation Serif', 'Times New Roman', serif" font-weight="bold" font-size="26.50">0.0</tspan></text>
<line x1="980.80" y1="954.75" x2="994.00" y2="954.75" stroke="#000" stroke-width="3.2" stroke-linecap="butt"/>
<text transform="translate(936.50,963.20) scale(1.0752,1)" x="-2.12" y="0" fill="#000" xml:space="preserve"><tspan font-family="'Liberation Serif', 'Times New Roman', serif" font-weight="bold" font-size="26.50">1.0</tspan></text>
<line x1="980.80" y1="1050.25" x2="994.00" y2="1050.25" stroke="#000" stroke-width="3.2" stroke-linecap="butt"/>
<text transform="translate(936.00,1059.90) scale(1.0564,1)" x="-1.11" y="0" fill="#000" xml:space="preserve"><tspan font-family="'Liberation Serif', 'Times New Roman', serif" font-weight="bold" font-size="26.50">2.0</tspan></text>
<line x1="980.80" y1="1142.50" x2="994.00" y2="1142.50" stroke="#000" stroke-width="3.2" stroke-linecap="butt"/>
<text transform="translate(936.25,1151.60) scale(1.0685,1)" x="-1.00" y="0" fill="#000" xml:space="preserve"><tspan font-family="'Liberation Serif', 'Times New Roman', serif" font-weight="bold" font-size="26.50">3.0</tspan></text>
<text transform="translate(821.30,686.50) scale(0.9872,1)" x="-3.29" y="0" fill="#000" xml:space="preserve"><tspan font-family="'Liberation Sans', Arial, sans-serif" font-weight="bold" font-size="66.00">(d)</tspan></text>
<text transform="translate(899.00,1089.50) rotate(-90) scale(1.0020,1)" x="-0.60" y="0" fill="#000" xml:space="preserve"><tspan font-family="'Liberation Serif', 'Times New Roman', serif" font-weight="bold" font-size="35.00">Potential vs NHE (eV)</tspan></text>
<rect x="1102.50" y="726.00" width="121.20" height="67.00" fill="#ffc000" stroke="#2a1800" stroke-width="2.4"/>
<rect x="1097.00" y="1044.90" width="121.10" height="66.70" fill="#ffc000" stroke="#2a1800" stroke-width="2.4"/>
<rect x="1369.60" y="774.40" width="121.40" height="67.20" fill="#ff6600" stroke="#380c00" stroke-width="2.4"/>
<rect x="1361.00" y="1075.60" width="121.80" height="66.70" fill="#ff6600" stroke="#380c00" stroke-width="2.4"/>
<text transform="translate(1124.50,771.00) scale(1.0446,1)" x="-1.28" y="0" fill="#000" xml:space="preserve"><tspan font-family="'Liberation Serif', 'Times New Roman', serif" font-weight="bold" font-size="35.00">-0.69</tspan></text>
<text transform="translate(1129.10,1094.00) scale(0.9983,1)" x="-2.80" y="0" fill="#000" xml:space="preserve"><tspan font-family="'Liberation Serif', 'Times New Roman', serif" font-weight="bold" font-size="35.00">1.94</tspan></text>
<text transform="translate(1399.60,820.00) scale(1.0312,1)" x="-1.28" y="0" fill="#000" xml:space="preserve"><tspan font-family="'Liberation Serif', 'Times New Roman', serif" font-weight="bold" font-size="35.00">-0.26</tspan></text>
<text transform="translate(1392.10,1120.70) scale(1.0210,1)" x="-1.47" y="0" fill="#000" xml:space="preserve"><tspan font-family="'Liberation Serif', 'Times New Roman', serif" font-weight="bold" font-size="35.00">2.02</tspan></text>
<text transform="translate(1040.50,768.70) scale(1.0814,1)" x="-1.51" y="0" fill="#000" xml:space="preserve"><tspan font-family="'Liberation Serif', 'Times New Roman', serif" font-weight="bold" font-size="31.00">CB</tspan></text>
<text transform="translate(1038.50,1094.50) scale(1.0513,1)" x="-0.35" y="0" fill="#000" xml:space="preserve"><tspan font-family="'Liberation Serif', 'Times New Roman', serif" font-weight="bold" font-size="31.00">VB</tspan></text>
<text transform="translate(1309.70,824.00) scale(1.1134,1)" x="-1.51" y="0" fill="#000" xml:space="preserve"><tspan font-family="'Liberation Serif', 'Times New Roman', serif" font-weight="bold" font-size="31.00">CB</tspan></text>
<text transform="translate(1297.80,1120.60) scale(1.0322,1)" x="-0.35" y="0" fill="#000" xml:space="preserve"><tspan font-family="'Liberation Serif', 'Times New Roman', serif" font-weight="bold" font-size="31.00">VB</tspan></text>
<line x1="1157.50" y1="1044.90" x2="1157.50" y2="802.60" stroke="#000" stroke-width="3.0" stroke-linecap="butt"/>
<polygon points="1157.50,793.60 1152.10,804.60 1162.90,804.60" fill="#000"/>
<line x1="1429.50" y1="1075.60" x2="1429.50" y2="851.20" stroke="#000" stroke-width="3.0" stroke-linecap="butt"/>
<polygon points="1429.50,842.20 1424.10,853.20 1434.90,853.20" fill="#000"/>
<text transform="translate(1203.40,1004.50) rotate(-90) scale(0.9932,1)" x="-0.60" y="0" fill="#000" xml:space="preserve"><tspan font-family="'Liberation Serif', 'Times New Roman', serif" font-weight="bold" font-size="35.00">E</tspan><tspan font-family="'Liberation Serif', 'Times New Roman', serif" font-weight="bold" font-size="20.00" dy="5.00">g</tspan><tspan font-family="'Liberation Serif', 'Times New Roman', serif" font-weight="bold" font-size="35.00" dy="-5.00">=2.63 eV</tspan></text>
<text transform="translate(1466.00,1040.30) rotate(-90) scale(0.9981,1)" x="-0.60" y="0" fill="#000" xml:space="preserve"><tspan font-family="'Liberation Serif', 'Times New Roman', serif" font-weight="bold" font-size="35.00">E</tspan><tspan font-family="'Liberation Serif', 'Times New Roman', serif" font-weight="bold" font-size="20.00" dy="5.00">g</tspan><tspan font-family="'Liberation Serif', 'Times New Roman', serif" font-weight="bold" font-size="35.00" dy="-5.00">=2.28 eV</tspan></text>
<text transform="translate(1112.00,1157.50) scale(1.1027,1)" x="-0.76" y="0" fill="#000" xml:space="preserve"><tspan font-family="'Liberation Serif', 'Times New Roman', serif" font-weight="bold" font-size="29.00">g-C</tspan><tspan font-family="'Liberation Serif', 'Times New Roman', serif" font-weight="bold" font-size="16.00" dy="4.00">3</tspan><tspan font-family="'Liberation Serif', 'Times New Roman', serif" font-weight="bold" font-size="29.00" dy="-4.00">N</tspan><tspan font-family="'Liberation Serif', 'Times New Roman', serif" font-weight="bold" font-size="16.00" dy="4.00">4</tspan></text>
<text transform="translate(1311.00,1180.00) scale(1.0475,1)" x="-1.44" y="0" fill="#000" xml:space="preserve"><tspan font-family="'Liberation Serif', 'Times New Roman', serif" font-weight="bold" font-size="29.50">CN/N,Fe-CQDs(2)</tspan></text>
</svg>
</body></html>
